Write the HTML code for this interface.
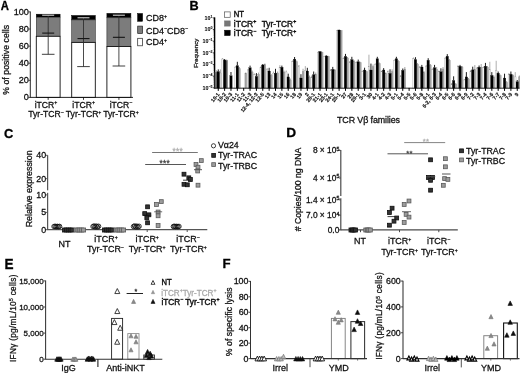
<!DOCTYPE html>
<html lang="en">
<head>
<meta charset="utf-8">
<title>Figure</title>
<style>
html,body{margin:0;padding:0;background:#fff;}
body{width:520px;height:373px;overflow:hidden;}
svg{display:block;font-family:'Liberation Sans', Arial, sans-serif;}
svg text{font-family:"Liberation Sans", Arial, sans-serif;}
</style>
</head>
<body>
<svg width="520" height="373" viewBox="0 0 520 373">
<rect x="0" y="0" width="520" height="373" fill="#ffffff"/>
<defs><filter id="soft" x="0" y="0" width="520" height="373" filterUnits="userSpaceOnUse"><feGaussianBlur stdDeviation="0.45"/></filter></defs>
<g id="fig" filter="url(#soft)">
<text transform="translate(0.77,10.05) scale(0.95,1)" font-size="11.9" font-weight="bold" fill="#000" stroke="#000" stroke-width="0.3">A</text>
<rect x="36.30" y="14.20" width="23.80" height="3.00" fill="#000" stroke="#000" stroke-width="0.5" />
<rect x="36.30" y="17.20" width="23.80" height="19.10" fill="#7c7c7c" stroke="#333" stroke-width="0.6" />
<rect x="36.30" y="36.30" width="23.80" height="61.10" fill="#fff" stroke="#111" stroke-width="0.9" />
<line x1="48.20" y1="15.20" x2="48.20" y2="54.30" stroke="#2a2a2a" stroke-width="0.85" />
<line x1="42.20" y1="15.20" x2="54.20" y2="15.20" stroke="#fff" stroke-width="0.9" />
<line x1="42.20" y1="33.10" x2="54.20" y2="33.10" stroke="#111" stroke-width="1.05" />
<line x1="41.90" y1="54.30" x2="54.50" y2="54.30" stroke="#2a2a2a" stroke-width="0.9" />
<rect x="71.70" y="15.50" width="23.60" height="4.40" fill="#000" stroke="#000" stroke-width="0.5" />
<rect x="71.70" y="19.90" width="23.60" height="22.50" fill="#7c7c7c" stroke="#333" stroke-width="0.6" />
<rect x="71.70" y="42.40" width="23.60" height="55.00" fill="#fff" stroke="#111" stroke-width="0.9" />
<line x1="83.50" y1="17.80" x2="83.50" y2="66.60" stroke="#2a2a2a" stroke-width="0.85" />
<line x1="77.50" y1="17.80" x2="89.50" y2="17.80" stroke="#fff" stroke-width="0.9" />
<line x1="77.50" y1="38.60" x2="89.50" y2="38.60" stroke="#111" stroke-width="1.05" />
<line x1="77.20" y1="66.60" x2="89.80" y2="66.60" stroke="#2a2a2a" stroke-width="0.9" />
<rect x="106.90" y="13.40" width="24.00" height="4.40" fill="#000" stroke="#000" stroke-width="0.5" />
<rect x="106.90" y="17.80" width="24.00" height="28.70" fill="#7c7c7c" stroke="#333" stroke-width="0.6" />
<rect x="106.90" y="46.50" width="24.00" height="50.90" fill="#fff" stroke="#111" stroke-width="0.9" />
<line x1="118.90" y1="15.20" x2="118.90" y2="66.00" stroke="#2a2a2a" stroke-width="0.85" />
<line x1="112.90" y1="15.20" x2="124.90" y2="15.20" stroke="#fff" stroke-width="0.9" />
<line x1="112.90" y1="37.30" x2="124.90" y2="37.30" stroke="#111" stroke-width="1.05" />
<line x1="112.60" y1="66.00" x2="125.20" y2="66.00" stroke="#2a2a2a" stroke-width="0.9" />
<line x1="30.30" y1="11.50" x2="30.30" y2="97.80" stroke="#111" stroke-width="0.9" />
<line x1="30.30" y1="97.40" x2="133.00" y2="97.40" stroke="#111" stroke-width="0.9" />
<line x1="28.40" y1="97.40" x2="30.30" y2="97.40" stroke="#111" stroke-width="0.8" />
<text x="28.90" y="99.70" font-size="9.1" text-anchor="end" font-weight="normal" fill="#111" stroke="#111" stroke-width="0.28" >0</text>
<line x1="28.40" y1="80.30" x2="30.30" y2="80.30" stroke="#111" stroke-width="0.8" />
<text x="28.90" y="82.84" font-size="9.1" text-anchor="end" font-weight="normal" fill="#111" stroke="#111" stroke-width="0.28" >20</text>
<line x1="28.40" y1="63.20" x2="30.30" y2="63.20" stroke="#111" stroke-width="0.8" />
<text x="28.90" y="65.98" font-size="9.1" text-anchor="end" font-weight="normal" fill="#111" stroke="#111" stroke-width="0.28" >40</text>
<line x1="28.40" y1="46.10" x2="30.30" y2="46.10" stroke="#111" stroke-width="0.8" />
<text x="28.90" y="49.12" font-size="9.1" text-anchor="end" font-weight="normal" fill="#111" stroke="#111" stroke-width="0.28" >60</text>
<line x1="28.40" y1="29.00" x2="30.30" y2="29.00" stroke="#111" stroke-width="0.8" />
<text x="28.90" y="32.26" font-size="9.1" text-anchor="end" font-weight="normal" fill="#111" stroke="#111" stroke-width="0.28" >80</text>
<line x1="28.40" y1="11.90" x2="30.30" y2="11.90" stroke="#111" stroke-width="0.8" />
<text x="28.90" y="15.40" font-size="9.1" text-anchor="end" font-weight="normal" fill="#111" stroke="#111" stroke-width="0.28" >100</text>
<line x1="48.20" y1="97.40" x2="48.20" y2="99.90" stroke="#111" stroke-width="0.8" />
<line x1="83.50" y1="97.40" x2="83.50" y2="99.90" stroke="#111" stroke-width="0.8" />
<line x1="118.90" y1="97.40" x2="118.90" y2="99.90" stroke="#111" stroke-width="0.8" />
<text transform="translate(8.9,59.85) rotate(-90)" font-size="8.63" text-anchor="middle" fill="#111" stroke="#111" stroke-width="0.28" textLength="69.8">% of positive cells</text>
<text x="46.00" y="107.60" font-size="8.65" text-anchor="middle" font-weight="normal" fill="#111" stroke="#111" stroke-width="0.28" >iTCR<tspan dy="-3.2" font-size="5.2">+</tspan><tspan dy="3.2" font-size="1">&#8203;</tspan></text>
<text x="46.00" y="117.20" font-size="8.65" text-anchor="middle" font-weight="normal" fill="#111" stroke="#111" stroke-width="0.28" >Tyr-TCR<tspan dy="-3.2" font-size="5.2">−</tspan><tspan dy="3.2" font-size="1">&#8203;</tspan></text>
<text x="83.60" y="107.60" font-size="8.65" text-anchor="middle" font-weight="normal" fill="#111" stroke="#111" stroke-width="0.28" >iTCR<tspan dy="-3.2" font-size="5.2">+</tspan><tspan dy="3.2" font-size="1">&#8203;</tspan></text>
<text x="83.60" y="117.20" font-size="8.65" text-anchor="middle" font-weight="normal" fill="#111" stroke="#111" stroke-width="0.28" >Tyr-TCR<tspan dy="-3.2" font-size="5.2">+</tspan><tspan dy="3.2" font-size="1">&#8203;</tspan></text>
<text x="121.00" y="107.60" font-size="8.65" text-anchor="middle" font-weight="normal" fill="#111" stroke="#111" stroke-width="0.28" >iTCR<tspan dy="-3.2" font-size="5.2">−</tspan><tspan dy="3.2" font-size="1">&#8203;</tspan></text>
<text x="121.00" y="117.20" font-size="8.65" text-anchor="middle" font-weight="normal" fill="#111" stroke="#111" stroke-width="0.28" >Tyr-TCR<tspan dy="-3.2" font-size="5.2">+</tspan><tspan dy="3.2" font-size="1">&#8203;</tspan></text>
<rect x="137.60" y="13.50" width="5.00" height="7.80" fill="#000" stroke="#000" stroke-width="0.5" />
<rect x="137.70" y="26.10" width="4.90" height="7.30" fill="#7c7c7c" stroke="#222" stroke-width="0.7" />
<rect x="137.70" y="38.30" width="4.90" height="7.50" fill="#fff" stroke="#222" stroke-width="0.7" />
<text x="146.00" y="21.40" font-size="9.0" text-anchor="start" font-weight="normal" fill="#111" stroke="#111" stroke-width="0.28" >CD8<tspan dy="-3.2" font-size="5.2">+</tspan><tspan dy="3.2" font-size="1">&#8203;</tspan></text>
<text x="146.00" y="33.50" font-size="9.0" text-anchor="start" font-weight="normal" fill="#111" stroke="#111" stroke-width="0.28" >CD4<tspan dy="-3.2" font-size="5.2">−</tspan><tspan dy="3.2" font-size="1">&#8203;</tspan>CD8<tspan dy="-3.2" font-size="5.2">−</tspan><tspan dy="3.2" font-size="1">&#8203;</tspan></text>
<text x="146.00" y="45.20" font-size="9.0" text-anchor="start" font-weight="normal" fill="#111" stroke="#111" stroke-width="0.28" >CD4<tspan dy="-3.2" font-size="5.2">+</tspan><tspan dy="3.2" font-size="1">&#8203;</tspan></text>
<text transform="translate(189.60,9.95) scale(1.04,1)" font-size="12.2" font-weight="bold" fill="#000" stroke="#000" stroke-width="0.3">B</text>
<line x1="214.60" y1="17.40" x2="214.60" y2="88.70" stroke="#000" stroke-width="1.4" />
<line x1="213.60" y1="26.04" x2="214.60" y2="26.04" stroke="#000" stroke-width="0.45" />
<line x1="213.60" y1="23.99" x2="214.60" y2="23.99" stroke="#000" stroke-width="0.45" />
<line x1="213.60" y1="22.54" x2="214.60" y2="22.54" stroke="#000" stroke-width="0.45" />
<line x1="213.60" y1="21.41" x2="214.60" y2="21.41" stroke="#000" stroke-width="0.45" />
<line x1="213.60" y1="20.48" x2="214.60" y2="20.48" stroke="#000" stroke-width="0.45" />
<line x1="213.60" y1="19.70" x2="214.60" y2="19.70" stroke="#000" stroke-width="0.45" />
<line x1="213.60" y1="19.03" x2="214.60" y2="19.03" stroke="#000" stroke-width="0.45" />
<line x1="213.60" y1="18.43" x2="214.60" y2="18.43" stroke="#000" stroke-width="0.45" />
<line x1="213.60" y1="37.69" x2="214.60" y2="37.69" stroke="#000" stroke-width="0.45" />
<line x1="213.60" y1="35.64" x2="214.60" y2="35.64" stroke="#000" stroke-width="0.45" />
<line x1="213.60" y1="34.19" x2="214.60" y2="34.19" stroke="#000" stroke-width="0.45" />
<line x1="213.60" y1="33.06" x2="214.60" y2="33.06" stroke="#000" stroke-width="0.45" />
<line x1="213.60" y1="32.13" x2="214.60" y2="32.13" stroke="#000" stroke-width="0.45" />
<line x1="213.60" y1="31.35" x2="214.60" y2="31.35" stroke="#000" stroke-width="0.45" />
<line x1="213.60" y1="30.68" x2="214.60" y2="30.68" stroke="#000" stroke-width="0.45" />
<line x1="213.60" y1="30.08" x2="214.60" y2="30.08" stroke="#000" stroke-width="0.45" />
<line x1="213.60" y1="49.34" x2="214.60" y2="49.34" stroke="#000" stroke-width="0.45" />
<line x1="213.60" y1="47.29" x2="214.60" y2="47.29" stroke="#000" stroke-width="0.45" />
<line x1="213.60" y1="45.84" x2="214.60" y2="45.84" stroke="#000" stroke-width="0.45" />
<line x1="213.60" y1="44.71" x2="214.60" y2="44.71" stroke="#000" stroke-width="0.45" />
<line x1="213.60" y1="43.78" x2="214.60" y2="43.78" stroke="#000" stroke-width="0.45" />
<line x1="213.60" y1="43.00" x2="214.60" y2="43.00" stroke="#000" stroke-width="0.45" />
<line x1="213.60" y1="42.33" x2="214.60" y2="42.33" stroke="#000" stroke-width="0.45" />
<line x1="213.60" y1="41.73" x2="214.60" y2="41.73" stroke="#000" stroke-width="0.45" />
<line x1="213.60" y1="60.99" x2="214.60" y2="60.99" stroke="#000" stroke-width="0.45" />
<line x1="213.60" y1="58.94" x2="214.60" y2="58.94" stroke="#000" stroke-width="0.45" />
<line x1="213.60" y1="57.49" x2="214.60" y2="57.49" stroke="#000" stroke-width="0.45" />
<line x1="213.60" y1="56.36" x2="214.60" y2="56.36" stroke="#000" stroke-width="0.45" />
<line x1="213.60" y1="55.43" x2="214.60" y2="55.43" stroke="#000" stroke-width="0.45" />
<line x1="213.60" y1="54.65" x2="214.60" y2="54.65" stroke="#000" stroke-width="0.45" />
<line x1="213.60" y1="53.98" x2="214.60" y2="53.98" stroke="#000" stroke-width="0.45" />
<line x1="213.60" y1="53.38" x2="214.60" y2="53.38" stroke="#000" stroke-width="0.45" />
<line x1="213.60" y1="72.64" x2="214.60" y2="72.64" stroke="#000" stroke-width="0.45" />
<line x1="213.60" y1="70.59" x2="214.60" y2="70.59" stroke="#000" stroke-width="0.45" />
<line x1="213.60" y1="69.14" x2="214.60" y2="69.14" stroke="#000" stroke-width="0.45" />
<line x1="213.60" y1="68.01" x2="214.60" y2="68.01" stroke="#000" stroke-width="0.45" />
<line x1="213.60" y1="67.08" x2="214.60" y2="67.08" stroke="#000" stroke-width="0.45" />
<line x1="213.60" y1="66.30" x2="214.60" y2="66.30" stroke="#000" stroke-width="0.45" />
<line x1="213.60" y1="65.63" x2="214.60" y2="65.63" stroke="#000" stroke-width="0.45" />
<line x1="213.60" y1="65.03" x2="214.60" y2="65.03" stroke="#000" stroke-width="0.45" />
<line x1="213.60" y1="84.29" x2="214.60" y2="84.29" stroke="#000" stroke-width="0.45" />
<line x1="213.60" y1="82.24" x2="214.60" y2="82.24" stroke="#000" stroke-width="0.45" />
<line x1="213.60" y1="80.79" x2="214.60" y2="80.79" stroke="#000" stroke-width="0.45" />
<line x1="213.60" y1="79.66" x2="214.60" y2="79.66" stroke="#000" stroke-width="0.45" />
<line x1="213.60" y1="78.73" x2="214.60" y2="78.73" stroke="#000" stroke-width="0.45" />
<line x1="213.60" y1="77.95" x2="214.60" y2="77.95" stroke="#000" stroke-width="0.45" />
<line x1="213.60" y1="77.28" x2="214.60" y2="77.28" stroke="#000" stroke-width="0.45" />
<line x1="213.60" y1="76.68" x2="214.60" y2="76.68" stroke="#000" stroke-width="0.45" />
<line x1="212.80" y1="17.90" x2="214.60" y2="17.90" stroke="#000" stroke-width="0.7" />
<text x="212.60" y="19.80" font-size="5.4" text-anchor="end" font-weight="bold" fill="#000" stroke="#000" stroke-width="0.05" >10<tspan dy="-2.0" font-size="3.6">1</tspan></text>
<line x1="212.80" y1="29.55" x2="214.60" y2="29.55" stroke="#000" stroke-width="0.7" />
<text x="212.60" y="31.45" font-size="5.4" text-anchor="end" font-weight="bold" fill="#000" stroke="#000" stroke-width="0.05" >10<tspan dy="-2.0" font-size="3.6">0</tspan></text>
<line x1="212.80" y1="41.20" x2="214.60" y2="41.20" stroke="#000" stroke-width="0.7" />
<text x="212.60" y="43.10" font-size="5.4" text-anchor="end" font-weight="bold" fill="#000" stroke="#000" stroke-width="0.05" >10<tspan dy="-2.0" font-size="3.6">−1</tspan></text>
<line x1="212.80" y1="52.85" x2="214.60" y2="52.85" stroke="#000" stroke-width="0.7" />
<text x="212.60" y="54.75" font-size="5.4" text-anchor="end" font-weight="bold" fill="#000" stroke="#000" stroke-width="0.05" >10<tspan dy="-2.0" font-size="3.6">−2</tspan></text>
<line x1="212.80" y1="64.50" x2="214.60" y2="64.50" stroke="#000" stroke-width="0.7" />
<text x="212.60" y="66.40" font-size="5.4" text-anchor="end" font-weight="bold" fill="#000" stroke="#000" stroke-width="0.05" >10<tspan dy="-2.0" font-size="3.6">−3</tspan></text>
<line x1="212.80" y1="76.15" x2="214.60" y2="76.15" stroke="#000" stroke-width="0.7" />
<text x="212.60" y="78.05" font-size="5.4" text-anchor="end" font-weight="bold" fill="#000" stroke="#000" stroke-width="0.05" >10<tspan dy="-2.0" font-size="3.6">−4</tspan></text>
<line x1="212.80" y1="87.80" x2="214.60" y2="87.80" stroke="#000" stroke-width="0.7" />
<text x="212.60" y="89.70" font-size="5.4" text-anchor="end" font-weight="bold" fill="#000" stroke="#000" stroke-width="0.05" >10<tspan dy="-2.0" font-size="3.6">−5</tspan></text>
<text transform="translate(198.1,53.2) rotate(-90)" font-size="6.2" textLength="29.2" text-anchor="middle" fill="#111" stroke="#111" stroke-width="0.28">Frequency</text>
<rect x="224.60" y="11.90" width="5.60" height="5.40" fill="#fff" stroke="#555" stroke-width="0.7" />
<rect x="224.60" y="20.90" width="5.60" height="5.20" fill="#777" stroke="#666" stroke-width="0.5" />
<rect x="224.60" y="30.20" width="5.60" height="5.40" fill="#000" stroke="#000" stroke-width="0.5" />
<text x="233.80" y="17.40" font-size="8.5" text-anchor="start" font-weight="normal" fill="#111" stroke="#111" stroke-width="0.28" style="stroke-width:0.42px" lengthAdjust="spacingAndGlyphs" textLength="10.3">NT</text>
<text x="233.80" y="26.50" font-size="8.5" text-anchor="start" font-weight="normal" fill="#111" stroke="#111" stroke-width="0.28" style="stroke-width:0.42px" lengthAdjust="spacingAndGlyphs" textLength="22.4">iTCR<tspan dy="-3.2" font-size="5.2">+</tspan><tspan dy="3.2" font-size="1">&#8203;</tspan></text>
<text x="261.70" y="26.50" font-size="8.5" text-anchor="start" font-weight="normal" fill="#111" stroke="#111" stroke-width="0.28" style="stroke-width:0.42px" lengthAdjust="spacingAndGlyphs" textLength="34.4">Tyr-TCR<tspan dy="-3.2" font-size="5.2">+</tspan><tspan dy="3.2" font-size="1">&#8203;</tspan></text>
<text x="233.80" y="35.90" font-size="8.5" text-anchor="start" font-weight="normal" fill="#111" stroke="#111" stroke-width="0.28" style="stroke-width:0.42px" lengthAdjust="spacingAndGlyphs" textLength="22.4">iTCR<tspan dy="-3.2" font-size="5.2">−</tspan><tspan dy="3.2" font-size="1">&#8203;</tspan></text>
<text x="261.70" y="35.90" font-size="8.5" text-anchor="start" font-weight="normal" fill="#111" stroke="#111" stroke-width="0.28" style="stroke-width:0.42px" lengthAdjust="spacingAndGlyphs" textLength="34.4">Tyr-TCR<tspan dy="-3.2" font-size="5.2">+</tspan><tspan dy="3.2" font-size="1">&#8203;</tspan></text>
<rect x="214.95" y="72.00" width="2.10" height="16.20" fill="#6a6a6a" stroke="#999" stroke-width="0.32" />
<line x1="216.25" y1="70.00" x2="216.25" y2="72.00" stroke="#777" stroke-width="0.6" />
<rect x="219.45" y="73.00" width="1.80" height="15.20" fill="#cfcfcf" stroke="#888" stroke-width="0.3" />
<line x1="220.35" y1="69.40" x2="220.35" y2="73.00" stroke="#666" stroke-width="0.6" />
<rect x="217.00" y="71.50" width="2.50" height="16.70" fill="#000" stroke="#000" stroke-width="0.2" />
<line x1="218.25" y1="69.40" x2="218.25" y2="71.50" stroke="#000" stroke-width="0.9" />
<rect x="221.81" y="59.00" width="1.60" height="29.20" fill="#f3f3f3" stroke="#999" stroke-width="0.32" />
<line x1="222.61" y1="58.00" x2="222.61" y2="59.00" stroke="#777" stroke-width="0.6" />
<rect x="225.81" y="60.20" width="1.80" height="28.00" fill="#555" stroke="#888" stroke-width="0.3" />
<line x1="226.71" y1="59.50" x2="226.71" y2="60.20" stroke="#666" stroke-width="0.6" />
<rect x="223.36" y="59.90" width="2.50" height="28.30" fill="#000" stroke="#000" stroke-width="0.2" />
<line x1="224.61" y1="59.00" x2="224.61" y2="59.90" stroke="#000" stroke-width="0.9" />
<rect x="229.72" y="75.80" width="2.50" height="12.40" fill="#000" stroke="#000" stroke-width="0.2" />
<line x1="230.97" y1="72.00" x2="230.97" y2="75.80" stroke="#000" stroke-width="0.9" />
<rect x="234.54" y="67.20" width="1.60" height="21.00" fill="#f3f3f3" stroke="#999" stroke-width="0.32" />
<line x1="235.34" y1="66.00" x2="235.34" y2="67.20" stroke="#777" stroke-width="0.6" />
<rect x="238.54" y="68.80" width="1.80" height="19.40" fill="#a2a2a2" stroke="#888" stroke-width="0.3" />
<line x1="239.44" y1="67.00" x2="239.44" y2="68.80" stroke="#666" stroke-width="0.6" />
<rect x="236.09" y="65.60" width="2.50" height="22.60" fill="#000" stroke="#000" stroke-width="0.2" />
<line x1="237.34" y1="61.80" x2="237.34" y2="65.60" stroke="#000" stroke-width="0.9" />
<rect x="244.90" y="73.10" width="1.80" height="15.10" fill="#a2a2a2" stroke="#888" stroke-width="0.3" />
<line x1="245.80" y1="72.50" x2="245.80" y2="73.10" stroke="#666" stroke-width="0.6" />
<rect x="247.26" y="70.00" width="1.60" height="18.20" fill="#f3f3f3" stroke="#999" stroke-width="0.32" />
<line x1="248.06" y1="69.00" x2="248.06" y2="70.00" stroke="#777" stroke-width="0.6" />
<rect x="251.26" y="72.00" width="1.80" height="16.20" fill="#a2a2a2" stroke="#888" stroke-width="0.3" />
<line x1="252.16" y1="70.50" x2="252.16" y2="72.00" stroke="#666" stroke-width="0.6" />
<rect x="248.81" y="67.80" width="2.50" height="20.40" fill="#000" stroke="#000" stroke-width="0.2" />
<line x1="250.06" y1="65.60" x2="250.06" y2="67.80" stroke="#000" stroke-width="0.9" />
<rect x="253.62" y="74.80" width="1.60" height="13.40" fill="#f3f3f3" stroke="#999" stroke-width="0.32" />
<line x1="254.42" y1="73.50" x2="254.42" y2="74.80" stroke="#777" stroke-width="0.6" />
<rect x="257.62" y="74.20" width="1.80" height="14.00" fill="#a2a2a2" stroke="#888" stroke-width="0.3" />
<line x1="258.52" y1="72.60" x2="258.52" y2="74.20" stroke="#666" stroke-width="0.6" />
<rect x="255.17" y="76.40" width="2.50" height="11.80" fill="#000" stroke="#000" stroke-width="0.2" />
<line x1="256.42" y1="73.10" x2="256.42" y2="76.40" stroke="#000" stroke-width="0.9" />
<rect x="259.98" y="67.80" width="1.60" height="20.40" fill="#f3f3f3" stroke="#999" stroke-width="0.32" />
<line x1="260.78" y1="66.50" x2="260.78" y2="67.80" stroke="#777" stroke-width="0.6" />
<rect x="263.98" y="64.50" width="1.80" height="23.70" fill="#a2a2a2" stroke="#888" stroke-width="0.3" />
<line x1="264.88" y1="63.50" x2="264.88" y2="64.50" stroke="#666" stroke-width="0.6" />
<rect x="261.53" y="65.00" width="2.50" height="23.20" fill="#000" stroke="#000" stroke-width="0.2" />
<line x1="262.78" y1="64.00" x2="262.78" y2="65.00" stroke="#000" stroke-width="0.9" />
<rect x="266.35" y="69.50" width="1.60" height="18.70" fill="#f3f3f3" stroke="#999" stroke-width="0.32" />
<line x1="267.15" y1="68.00" x2="267.15" y2="69.50" stroke="#777" stroke-width="0.6" />
<rect x="270.35" y="75.30" width="1.80" height="12.90" fill="#a2a2a2" stroke="#888" stroke-width="0.3" />
<line x1="271.25" y1="74.00" x2="271.25" y2="75.30" stroke="#666" stroke-width="0.6" />
<rect x="267.90" y="71.00" width="2.50" height="17.20" fill="#000" stroke="#000" stroke-width="0.2" />
<line x1="269.15" y1="67.80" x2="269.15" y2="71.00" stroke="#000" stroke-width="0.9" />
<rect x="272.71" y="73.10" width="1.60" height="15.10" fill="#f3f3f3" stroke="#999" stroke-width="0.32" />
<line x1="273.51" y1="71.50" x2="273.51" y2="73.10" stroke="#777" stroke-width="0.6" />
<rect x="276.71" y="73.00" width="1.80" height="15.20" fill="#a2a2a2" stroke="#888" stroke-width="0.3" />
<line x1="277.61" y1="71.50" x2="277.61" y2="73.00" stroke="#666" stroke-width="0.6" />
<rect x="274.26" y="73.10" width="2.50" height="15.10" fill="#000" stroke="#000" stroke-width="0.2" />
<line x1="275.51" y1="68.80" x2="275.51" y2="73.10" stroke="#000" stroke-width="0.9" />
<rect x="279.07" y="67.80" width="1.60" height="20.40" fill="#f3f3f3" stroke="#999" stroke-width="0.32" />
<line x1="279.87" y1="65.10" x2="279.87" y2="67.80" stroke="#777" stroke-width="0.6" />
<rect x="283.07" y="72.00" width="1.80" height="16.20" fill="#a2a2a2" stroke="#888" stroke-width="0.3" />
<line x1="283.97" y1="70.50" x2="283.97" y2="72.00" stroke="#666" stroke-width="0.6" />
<rect x="280.62" y="67.20" width="2.50" height="21.00" fill="#000" stroke="#000" stroke-width="0.2" />
<line x1="281.87" y1="65.60" x2="281.87" y2="67.20" stroke="#000" stroke-width="0.9" />
<rect x="285.43" y="72.00" width="1.60" height="16.20" fill="#f3f3f3" stroke="#999" stroke-width="0.32" />
<line x1="286.23" y1="70.50" x2="286.23" y2="72.00" stroke="#777" stroke-width="0.6" />
<rect x="289.43" y="80.00" width="1.80" height="8.20" fill="#a2a2a2" stroke="#888" stroke-width="0.3" />
<line x1="290.33" y1="78.50" x2="290.33" y2="80.00" stroke="#666" stroke-width="0.6" />
<rect x="286.98" y="76.90" width="2.50" height="11.30" fill="#000" stroke="#000" stroke-width="0.2" />
<line x1="288.23" y1="73.70" x2="288.23" y2="76.90" stroke="#000" stroke-width="0.9" />
<rect x="291.79" y="61.80" width="1.60" height="26.40" fill="#f3f3f3" stroke="#999" stroke-width="0.32" />
<line x1="292.59" y1="60.50" x2="292.59" y2="61.80" stroke="#777" stroke-width="0.6" />
<rect x="295.79" y="61.80" width="1.80" height="26.40" fill="#a2a2a2" stroke="#888" stroke-width="0.3" />
<line x1="296.69" y1="60.50" x2="296.69" y2="61.80" stroke="#666" stroke-width="0.6" />
<rect x="293.34" y="59.10" width="2.50" height="29.10" fill="#000" stroke="#000" stroke-width="0.2" />
<line x1="294.59" y1="57.00" x2="294.59" y2="59.10" stroke="#000" stroke-width="0.9" />
<rect x="298.16" y="66.00" width="1.60" height="22.20" fill="#f3f3f3" stroke="#999" stroke-width="0.32" />
<line x1="298.96" y1="65.00" x2="298.96" y2="66.00" stroke="#777" stroke-width="0.6" />
<rect x="302.16" y="71.50" width="1.80" height="16.70" fill="#a2a2a2" stroke="#888" stroke-width="0.3" />
<line x1="303.06" y1="68.80" x2="303.06" y2="71.50" stroke="#666" stroke-width="0.6" />
<rect x="299.71" y="78.00" width="2.50" height="10.20" fill="#000" stroke="#000" stroke-width="0.2" />
<line x1="300.96" y1="74.20" x2="300.96" y2="78.00" stroke="#000" stroke-width="0.9" />
<rect x="304.52" y="70.50" width="1.60" height="17.70" fill="#f3f3f3" stroke="#999" stroke-width="0.32" />
<line x1="305.32" y1="66.10" x2="305.32" y2="70.50" stroke="#777" stroke-width="0.6" />
<rect x="308.52" y="77.00" width="1.80" height="11.20" fill="#a2a2a2" stroke="#888" stroke-width="0.3" />
<line x1="309.42" y1="75.50" x2="309.42" y2="77.00" stroke="#666" stroke-width="0.6" />
<rect x="306.07" y="71.00" width="2.50" height="17.20" fill="#000" stroke="#000" stroke-width="0.2" />
<line x1="307.32" y1="67.80" x2="307.32" y2="71.00" stroke="#000" stroke-width="0.9" />
<rect x="310.88" y="77.00" width="1.60" height="11.20" fill="#f3f3f3" stroke="#999" stroke-width="0.32" />
<line x1="311.68" y1="75.50" x2="311.68" y2="77.00" stroke="#777" stroke-width="0.6" />
<rect x="314.88" y="74.20" width="1.80" height="14.00" fill="#a2a2a2" stroke="#888" stroke-width="0.3" />
<line x1="315.78" y1="72.50" x2="315.78" y2="74.20" stroke="#666" stroke-width="0.6" />
<rect x="312.43" y="74.80" width="2.50" height="13.40" fill="#000" stroke="#000" stroke-width="0.2" />
<line x1="313.68" y1="71.50" x2="313.68" y2="74.80" stroke="#000" stroke-width="0.9" />
<rect x="317.24" y="52.30" width="1.60" height="35.90" fill="#f3f3f3" stroke="#999" stroke-width="0.32" />
<line x1="318.04" y1="51.80" x2="318.04" y2="52.30" stroke="#777" stroke-width="0.6" />
<rect x="321.24" y="52.30" width="1.80" height="35.90" fill="#a2a2a2" stroke="#888" stroke-width="0.3" />
<line x1="322.14" y1="51.80" x2="322.14" y2="52.30" stroke="#666" stroke-width="0.6" />
<rect x="318.79" y="51.50" width="2.50" height="36.70" fill="#000" stroke="#000" stroke-width="0.2" />
<line x1="320.04" y1="51.00" x2="320.04" y2="51.50" stroke="#000" stroke-width="0.9" />
<rect x="323.60" y="56.40" width="1.60" height="31.80" fill="#f3f3f3" stroke="#999" stroke-width="0.32" />
<line x1="324.40" y1="55.90" x2="324.40" y2="56.40" stroke="#777" stroke-width="0.6" />
<rect x="327.60" y="56.40" width="1.80" height="31.80" fill="#a2a2a2" stroke="#888" stroke-width="0.3" />
<line x1="328.50" y1="55.90" x2="328.50" y2="56.40" stroke="#666" stroke-width="0.6" />
<rect x="325.15" y="55.90" width="2.50" height="32.30" fill="#000" stroke="#000" stroke-width="0.2" />
<line x1="326.40" y1="55.40" x2="326.40" y2="55.90" stroke="#000" stroke-width="0.9" />
<rect x="329.97" y="70.00" width="1.60" height="18.20" fill="#f3f3f3" stroke="#999" stroke-width="0.32" />
<line x1="330.77" y1="69.00" x2="330.77" y2="70.00" stroke="#777" stroke-width="0.6" />
<rect x="333.97" y="70.00" width="1.80" height="18.20" fill="#a2a2a2" stroke="#888" stroke-width="0.3" />
<line x1="334.87" y1="69.00" x2="334.87" y2="70.00" stroke="#666" stroke-width="0.6" />
<rect x="331.52" y="69.30" width="2.50" height="18.90" fill="#000" stroke="#000" stroke-width="0.2" />
<line x1="332.77" y1="66.90" x2="332.77" y2="69.30" stroke="#000" stroke-width="0.9" />
<rect x="336.33" y="30.50" width="1.60" height="57.70" fill="#f3f3f3" stroke="#999" stroke-width="0.32" />
<line x1="337.13" y1="30.20" x2="337.13" y2="30.50" stroke="#777" stroke-width="0.6" />
<rect x="340.33" y="30.50" width="1.80" height="57.70" fill="#a2a2a2" stroke="#888" stroke-width="0.3" />
<line x1="341.23" y1="30.20" x2="341.23" y2="30.50" stroke="#666" stroke-width="0.6" />
<rect x="337.88" y="30.00" width="2.50" height="58.20" fill="#000" stroke="#000" stroke-width="0.2" />
<line x1="339.13" y1="29.70" x2="339.13" y2="30.00" stroke="#000" stroke-width="0.9" />
<rect x="342.69" y="58.80" width="1.60" height="29.40" fill="#f3f3f3" stroke="#999" stroke-width="0.32" />
<line x1="343.49" y1="57.50" x2="343.49" y2="58.80" stroke="#777" stroke-width="0.6" />
<rect x="346.69" y="58.00" width="1.80" height="30.20" fill="#a2a2a2" stroke="#888" stroke-width="0.3" />
<line x1="347.59" y1="57.00" x2="347.59" y2="58.00" stroke="#666" stroke-width="0.6" />
<rect x="344.24" y="56.30" width="2.50" height="31.90" fill="#000" stroke="#000" stroke-width="0.2" />
<line x1="345.49" y1="53.90" x2="345.49" y2="56.30" stroke="#000" stroke-width="0.9" />
<rect x="349.05" y="62.00" width="1.60" height="26.20" fill="#f3f3f3" stroke="#999" stroke-width="0.32" />
<line x1="349.85" y1="61.00" x2="349.85" y2="62.00" stroke="#777" stroke-width="0.6" />
<rect x="353.05" y="61.20" width="1.80" height="27.00" fill="#a2a2a2" stroke="#888" stroke-width="0.3" />
<line x1="353.95" y1="60.00" x2="353.95" y2="61.20" stroke="#666" stroke-width="0.6" />
<rect x="350.60" y="59.60" width="2.50" height="28.60" fill="#000" stroke="#000" stroke-width="0.2" />
<line x1="351.85" y1="56.80" x2="351.85" y2="59.60" stroke="#000" stroke-width="0.9" />
<rect x="355.41" y="62.80" width="1.60" height="25.40" fill="#f3f3f3" stroke="#999" stroke-width="0.32" />
<line x1="356.21" y1="61.80" x2="356.21" y2="62.80" stroke="#777" stroke-width="0.6" />
<rect x="359.41" y="62.80" width="1.80" height="25.40" fill="#a2a2a2" stroke="#888" stroke-width="0.3" />
<line x1="360.31" y1="61.80" x2="360.31" y2="62.80" stroke="#666" stroke-width="0.6" />
<rect x="356.96" y="61.70" width="2.50" height="26.50" fill="#000" stroke="#000" stroke-width="0.2" />
<line x1="358.21" y1="59.60" x2="358.21" y2="61.70" stroke="#000" stroke-width="0.9" />
<rect x="361.78" y="71.70" width="1.60" height="16.50" fill="#f3f3f3" stroke="#999" stroke-width="0.32" />
<line x1="362.58" y1="70.70" x2="362.58" y2="71.70" stroke="#777" stroke-width="0.6" />
<rect x="365.78" y="71.70" width="1.80" height="16.50" fill="#a2a2a2" stroke="#888" stroke-width="0.3" />
<line x1="366.68" y1="70.70" x2="366.68" y2="71.70" stroke="#666" stroke-width="0.6" />
<rect x="363.33" y="70.00" width="2.50" height="18.20" fill="#000" stroke="#000" stroke-width="0.2" />
<line x1="364.58" y1="67.70" x2="364.58" y2="70.00" stroke="#000" stroke-width="0.9" />
<rect x="368.14" y="66.80" width="1.60" height="21.40" fill="#f3f3f3" stroke="#999" stroke-width="0.32" />
<line x1="368.94" y1="54.70" x2="368.94" y2="66.80" stroke="#777" stroke-width="0.6" />
<rect x="372.14" y="66.80" width="1.80" height="21.40" fill="#a2a2a2" stroke="#888" stroke-width="0.3" />
<line x1="373.04" y1="64.50" x2="373.04" y2="66.80" stroke="#666" stroke-width="0.6" />
<rect x="369.69" y="70.00" width="2.50" height="18.20" fill="#000" stroke="#000" stroke-width="0.2" />
<line x1="370.94" y1="63.60" x2="370.94" y2="70.00" stroke="#000" stroke-width="0.9" />
<rect x="374.50" y="64.40" width="1.60" height="23.80" fill="#f3f3f3" stroke="#999" stroke-width="0.32" />
<line x1="375.30" y1="63.40" x2="375.30" y2="64.40" stroke="#777" stroke-width="0.6" />
<rect x="378.50" y="63.60" width="1.80" height="24.60" fill="#a2a2a2" stroke="#888" stroke-width="0.3" />
<line x1="379.40" y1="62.50" x2="379.40" y2="63.60" stroke="#666" stroke-width="0.6" />
<rect x="376.05" y="58.80" width="2.50" height="29.40" fill="#000" stroke="#000" stroke-width="0.2" />
<line x1="377.30" y1="56.80" x2="377.30" y2="58.80" stroke="#000" stroke-width="0.9" />
<rect x="380.86" y="71.70" width="1.60" height="16.50" fill="#f3f3f3" stroke="#999" stroke-width="0.32" />
<line x1="381.66" y1="70.70" x2="381.66" y2="71.70" stroke="#777" stroke-width="0.6" />
<rect x="384.86" y="73.30" width="1.80" height="14.90" fill="#a2a2a2" stroke="#888" stroke-width="0.3" />
<line x1="385.76" y1="72.30" x2="385.76" y2="73.30" stroke="#666" stroke-width="0.6" />
<rect x="382.41" y="70.00" width="2.50" height="18.20" fill="#000" stroke="#000" stroke-width="0.2" />
<line x1="383.66" y1="68.10" x2="383.66" y2="70.00" stroke="#000" stroke-width="0.9" />
<rect x="387.22" y="71.70" width="1.60" height="16.50" fill="#f3f3f3" stroke="#999" stroke-width="0.32" />
<line x1="388.02" y1="70.50" x2="388.02" y2="71.70" stroke="#777" stroke-width="0.6" />
<rect x="391.22" y="71.70" width="1.80" height="16.50" fill="#a2a2a2" stroke="#888" stroke-width="0.3" />
<line x1="392.12" y1="69.30" x2="392.12" y2="71.70" stroke="#666" stroke-width="0.6" />
<rect x="388.77" y="73.30" width="2.50" height="14.90" fill="#000" stroke="#000" stroke-width="0.2" />
<line x1="390.02" y1="69.30" x2="390.02" y2="73.30" stroke="#000" stroke-width="0.9" />
<rect x="393.59" y="60.40" width="1.60" height="27.80" fill="#f3f3f3" stroke="#999" stroke-width="0.32" />
<line x1="394.39" y1="59.40" x2="394.39" y2="60.40" stroke="#777" stroke-width="0.6" />
<rect x="397.59" y="61.20" width="1.80" height="27.00" fill="#a2a2a2" stroke="#888" stroke-width="0.3" />
<line x1="398.49" y1="60.20" x2="398.49" y2="61.20" stroke="#666" stroke-width="0.6" />
<rect x="395.14" y="58.80" width="2.50" height="29.40" fill="#000" stroke="#000" stroke-width="0.2" />
<line x1="396.39" y1="56.80" x2="396.39" y2="58.80" stroke="#000" stroke-width="0.9" />
<rect x="399.95" y="76.00" width="1.60" height="12.20" fill="#f3f3f3" stroke="#999" stroke-width="0.32" />
<line x1="400.75" y1="75.00" x2="400.75" y2="76.00" stroke="#777" stroke-width="0.6" />
<rect x="403.95" y="69.00" width="1.80" height="19.20" fill="#a2a2a2" stroke="#888" stroke-width="0.3" />
<line x1="404.85" y1="67.00" x2="404.85" y2="69.00" stroke="#666" stroke-width="0.6" />
<rect x="401.50" y="70.30" width="2.50" height="17.90" fill="#000" stroke="#000" stroke-width="0.2" />
<line x1="402.75" y1="68.50" x2="402.75" y2="70.30" stroke="#000" stroke-width="0.9" />
<rect x="412.67" y="58.80" width="1.60" height="29.40" fill="#f3f3f3" stroke="#999" stroke-width="0.32" />
<line x1="413.47" y1="57.50" x2="413.47" y2="58.80" stroke="#777" stroke-width="0.6" />
<rect x="416.67" y="64.20" width="1.80" height="24.00" fill="#a2a2a2" stroke="#888" stroke-width="0.3" />
<line x1="417.57" y1="63.00" x2="417.57" y2="64.20" stroke="#666" stroke-width="0.6" />
<rect x="414.22" y="59.50" width="2.50" height="28.70" fill="#000" stroke="#000" stroke-width="0.2" />
<line x1="415.47" y1="57.20" x2="415.47" y2="59.50" stroke="#000" stroke-width="0.9" />
<rect x="419.03" y="67.00" width="1.60" height="21.20" fill="#f3f3f3" stroke="#999" stroke-width="0.32" />
<line x1="419.83" y1="66.00" x2="419.83" y2="67.00" stroke="#777" stroke-width="0.6" />
<rect x="423.03" y="72.30" width="1.80" height="15.90" fill="#a2a2a2" stroke="#888" stroke-width="0.3" />
<line x1="423.93" y1="71.00" x2="423.93" y2="72.30" stroke="#666" stroke-width="0.6" />
<rect x="420.58" y="67.00" width="2.50" height="21.20" fill="#000" stroke="#000" stroke-width="0.2" />
<line x1="421.83" y1="64.90" x2="421.83" y2="67.00" stroke="#000" stroke-width="0.9" />
<rect x="425.40" y="66.20" width="1.60" height="22.00" fill="#f3f3f3" stroke="#999" stroke-width="0.32" />
<line x1="426.20" y1="65.00" x2="426.20" y2="66.20" stroke="#777" stroke-width="0.6" />
<rect x="429.40" y="65.00" width="1.80" height="23.20" fill="#a2a2a2" stroke="#888" stroke-width="0.3" />
<line x1="430.30" y1="64.00" x2="430.30" y2="65.00" stroke="#666" stroke-width="0.6" />
<rect x="426.95" y="60.20" width="2.50" height="28.00" fill="#000" stroke="#000" stroke-width="0.2" />
<line x1="428.20" y1="58.20" x2="428.20" y2="60.20" stroke="#000" stroke-width="0.9" />
<rect x="431.76" y="69.60" width="1.60" height="18.60" fill="#f3f3f3" stroke="#999" stroke-width="0.32" />
<line x1="432.56" y1="68.50" x2="432.56" y2="69.60" stroke="#777" stroke-width="0.6" />
<rect x="435.76" y="69.00" width="1.80" height="19.20" fill="#a2a2a2" stroke="#888" stroke-width="0.3" />
<line x1="436.66" y1="67.00" x2="436.66" y2="69.00" stroke="#666" stroke-width="0.6" />
<rect x="433.31" y="67.60" width="2.50" height="20.60" fill="#000" stroke="#000" stroke-width="0.2" />
<line x1="434.56" y1="64.90" x2="434.56" y2="67.60" stroke="#000" stroke-width="0.9" />
<rect x="438.12" y="71.60" width="1.60" height="16.60" fill="#f3f3f3" stroke="#999" stroke-width="0.32" />
<line x1="438.92" y1="70.50" x2="438.92" y2="71.60" stroke="#777" stroke-width="0.6" />
<rect x="442.12" y="69.00" width="1.80" height="19.20" fill="#a2a2a2" stroke="#888" stroke-width="0.3" />
<line x1="443.02" y1="67.00" x2="443.02" y2="69.00" stroke="#666" stroke-width="0.6" />
<rect x="439.67" y="71.60" width="2.50" height="16.60" fill="#000" stroke="#000" stroke-width="0.2" />
<line x1="440.92" y1="68.30" x2="440.92" y2="71.60" stroke="#000" stroke-width="0.9" />
<rect x="444.48" y="58.20" width="1.60" height="30.00" fill="#f3f3f3" stroke="#999" stroke-width="0.32" />
<line x1="445.28" y1="57.00" x2="445.28" y2="58.20" stroke="#777" stroke-width="0.6" />
<rect x="448.48" y="60.20" width="1.80" height="28.00" fill="#a2a2a2" stroke="#888" stroke-width="0.3" />
<line x1="449.38" y1="59.00" x2="449.38" y2="60.20" stroke="#666" stroke-width="0.6" />
<rect x="446.03" y="56.20" width="2.50" height="32.00" fill="#000" stroke="#000" stroke-width="0.2" />
<line x1="447.28" y1="54.10" x2="447.28" y2="56.20" stroke="#000" stroke-width="0.9" />
<rect x="450.84" y="84.00" width="1.60" height="4.20" fill="#f3f3f3" stroke="#999" stroke-width="0.32" />
<line x1="451.64" y1="83.00" x2="451.64" y2="84.00" stroke="#777" stroke-width="0.6" />
<rect x="454.84" y="84.00" width="1.80" height="4.20" fill="#a2a2a2" stroke="#888" stroke-width="0.3" />
<line x1="455.74" y1="83.00" x2="455.74" y2="84.00" stroke="#666" stroke-width="0.6" />
<rect x="452.39" y="80.40" width="2.50" height="7.80" fill="#000" stroke="#000" stroke-width="0.2" />
<line x1="453.64" y1="76.30" x2="453.64" y2="80.40" stroke="#000" stroke-width="0.9" />
<rect x="457.21" y="66.20" width="1.60" height="22.00" fill="#f3f3f3" stroke="#999" stroke-width="0.32" />
<line x1="458.01" y1="65.20" x2="458.01" y2="66.20" stroke="#777" stroke-width="0.6" />
<rect x="461.21" y="67.00" width="1.80" height="21.20" fill="#a2a2a2" stroke="#888" stroke-width="0.3" />
<line x1="462.11" y1="66.00" x2="462.11" y2="67.00" stroke="#666" stroke-width="0.6" />
<rect x="458.76" y="66.20" width="2.50" height="22.00" fill="#000" stroke="#000" stroke-width="0.2" />
<line x1="460.01" y1="64.90" x2="460.01" y2="66.20" stroke="#000" stroke-width="0.9" />
<rect x="463.57" y="80.00" width="1.60" height="8.20" fill="#f3f3f3" stroke="#999" stroke-width="0.32" />
<line x1="464.37" y1="79.00" x2="464.37" y2="80.00" stroke="#777" stroke-width="0.6" />
<rect x="467.57" y="79.00" width="1.80" height="9.20" fill="#a2a2a2" stroke="#888" stroke-width="0.3" />
<line x1="468.47" y1="78.00" x2="468.47" y2="79.00" stroke="#666" stroke-width="0.6" />
<rect x="465.12" y="76.90" width="2.50" height="11.30" fill="#000" stroke="#000" stroke-width="0.2" />
<line x1="466.37" y1="72.10" x2="466.37" y2="76.90" stroke="#000" stroke-width="0.9" />
<rect x="469.93" y="71.50" width="1.60" height="16.70" fill="#f3f3f3" stroke="#999" stroke-width="0.32" />
<line x1="470.73" y1="70.00" x2="470.73" y2="71.50" stroke="#777" stroke-width="0.6" />
<rect x="473.93" y="69.40" width="1.80" height="18.80" fill="#a2a2a2" stroke="#888" stroke-width="0.3" />
<line x1="474.83" y1="65.10" x2="474.83" y2="69.40" stroke="#666" stroke-width="0.6" />
<rect x="471.48" y="69.90" width="2.50" height="18.30" fill="#000" stroke="#000" stroke-width="0.2" />
<line x1="472.73" y1="66.70" x2="472.73" y2="69.90" stroke="#000" stroke-width="0.9" />
<rect x="476.29" y="68.30" width="1.60" height="19.90" fill="#f3f3f3" stroke="#999" stroke-width="0.32" />
<line x1="477.09" y1="67.00" x2="477.09" y2="68.30" stroke="#777" stroke-width="0.6" />
<rect x="480.29" y="67.20" width="1.80" height="21.00" fill="#a2a2a2" stroke="#888" stroke-width="0.3" />
<line x1="481.19" y1="64.00" x2="481.19" y2="67.20" stroke="#666" stroke-width="0.6" />
<rect x="477.84" y="67.20" width="2.50" height="21.00" fill="#000" stroke="#000" stroke-width="0.2" />
<line x1="479.09" y1="65.50" x2="479.09" y2="67.20" stroke="#000" stroke-width="0.9" />
<rect x="482.65" y="67.80" width="1.60" height="20.40" fill="#f3f3f3" stroke="#999" stroke-width="0.32" />
<line x1="483.45" y1="66.50" x2="483.45" y2="67.80" stroke="#777" stroke-width="0.6" />
<rect x="486.65" y="67.20" width="1.80" height="21.00" fill="#a2a2a2" stroke="#888" stroke-width="0.3" />
<line x1="487.55" y1="66.00" x2="487.55" y2="67.20" stroke="#666" stroke-width="0.6" />
<rect x="484.20" y="66.10" width="2.50" height="22.10" fill="#000" stroke="#000" stroke-width="0.2" />
<line x1="485.45" y1="62.90" x2="485.45" y2="66.10" stroke="#000" stroke-width="0.9" />
<rect x="489.02" y="69.40" width="1.60" height="18.80" fill="#f3f3f3" stroke="#999" stroke-width="0.32" />
<line x1="489.82" y1="61.80" x2="489.82" y2="69.40" stroke="#777" stroke-width="0.6" />
<rect x="493.02" y="76.90" width="1.80" height="11.30" fill="#a2a2a2" stroke="#888" stroke-width="0.3" />
<line x1="493.92" y1="75.50" x2="493.92" y2="76.90" stroke="#666" stroke-width="0.6" />
<rect x="490.57" y="75.30" width="2.50" height="12.90" fill="#000" stroke="#000" stroke-width="0.2" />
<line x1="491.82" y1="72.10" x2="491.82" y2="75.30" stroke="#000" stroke-width="0.9" />
<rect x="495.38" y="70.50" width="1.60" height="17.70" fill="#f3f3f3" stroke="#999" stroke-width="0.32" />
<line x1="496.18" y1="60.80" x2="496.18" y2="70.50" stroke="#777" stroke-width="0.6" />
<rect x="499.38" y="75.80" width="1.80" height="12.40" fill="#a2a2a2" stroke="#888" stroke-width="0.3" />
<line x1="500.28" y1="74.50" x2="500.28" y2="75.80" stroke="#666" stroke-width="0.6" />
<rect x="496.93" y="73.10" width="2.50" height="15.10" fill="#000" stroke="#000" stroke-width="0.2" />
<line x1="498.18" y1="71.50" x2="498.18" y2="73.10" stroke="#000" stroke-width="0.9" />
<rect x="505.74" y="82.30" width="1.80" height="5.90" fill="#a2a2a2" stroke="#888" stroke-width="0.3" />
<line x1="506.64" y1="81.00" x2="506.64" y2="82.30" stroke="#666" stroke-width="0.6" />
<rect x="503.29" y="78.00" width="2.50" height="10.20" fill="#000" stroke="#000" stroke-width="0.2" />
<line x1="504.54" y1="73.70" x2="504.54" y2="78.00" stroke="#000" stroke-width="0.9" />
<rect x="508.10" y="74.20" width="1.60" height="14.00" fill="#f3f3f3" stroke="#999" stroke-width="0.32" />
<line x1="508.90" y1="73.00" x2="508.90" y2="74.20" stroke="#777" stroke-width="0.6" />
<rect x="512.10" y="75.80" width="1.80" height="12.40" fill="#a2a2a2" stroke="#888" stroke-width="0.3" />
<line x1="513.00" y1="74.50" x2="513.00" y2="75.80" stroke="#666" stroke-width="0.6" />
<rect x="509.65" y="74.20" width="2.50" height="14.00" fill="#000" stroke="#000" stroke-width="0.2" />
<line x1="510.90" y1="71.50" x2="510.90" y2="74.20" stroke="#000" stroke-width="0.9" />
<rect x="514.46" y="76.90" width="1.60" height="11.30" fill="#f3f3f3" stroke="#999" stroke-width="0.32" />
<line x1="515.26" y1="72.10" x2="515.26" y2="76.90" stroke="#777" stroke-width="0.6" />
<rect x="518.46" y="76.90" width="1.80" height="11.30" fill="#a2a2a2" stroke="#888" stroke-width="0.3" />
<line x1="519.36" y1="75.50" x2="519.36" y2="76.90" stroke="#666" stroke-width="0.6" />
<rect x="516.01" y="81.80" width="2.50" height="6.40" fill="#000" stroke="#000" stroke-width="0.2" />
<line x1="517.26" y1="80.00" x2="517.26" y2="81.80" stroke="#000" stroke-width="0.9" />
<line x1="214.60" y1="88.20" x2="519.50" y2="88.20" stroke="#111" stroke-width="0.9" />
<line x1="218.25" y1="87.90" x2="218.25" y2="90.90" stroke="#000" stroke-width="1.0" />
<text transform="translate(219.95,94.50) rotate(-50)" font-size="5.2" font-weight="bold" text-anchor="end" fill="#111" stroke="#111" stroke-width="0.15">10-1</text>
<line x1="224.61" y1="87.90" x2="224.61" y2="90.90" stroke="#000" stroke-width="1.0" />
<text transform="translate(226.31,94.50) rotate(-50)" font-size="5.2" font-weight="bold" text-anchor="end" fill="#111" stroke="#111" stroke-width="0.15">10-2</text>
<line x1="230.97" y1="87.90" x2="230.97" y2="90.90" stroke="#000" stroke-width="1.0" />
<text transform="translate(232.67,94.50) rotate(-50)" font-size="5.2" font-weight="bold" text-anchor="end" fill="#111" stroke="#111" stroke-width="0.15">10-3</text>
<line x1="237.34" y1="87.90" x2="237.34" y2="90.90" stroke="#000" stroke-width="1.0" />
<text transform="translate(239.04,94.50) rotate(-50)" font-size="5.2" font-weight="bold" text-anchor="end" fill="#111" stroke="#111" stroke-width="0.15">11-1</text>
<line x1="243.70" y1="87.90" x2="243.70" y2="90.90" stroke="#000" stroke-width="1.0" />
<text transform="translate(245.40,94.50) rotate(-50)" font-size="5.2" font-weight="bold" text-anchor="end" fill="#111" stroke="#111" stroke-width="0.15">11-2</text>
<line x1="250.06" y1="87.90" x2="250.06" y2="90.90" stroke="#000" stroke-width="1.0" />
<text transform="translate(251.76,94.50) rotate(-50)" font-size="5.2" font-weight="bold" text-anchor="end" fill="#111" stroke="#111" stroke-width="0.15">11-3</text>
<line x1="256.42" y1="87.90" x2="256.42" y2="90.90" stroke="#000" stroke-width="1.0" />
<text transform="translate(258.12,94.50) rotate(-50)" font-size="5.2" font-weight="bold" text-anchor="end" fill="#111" stroke="#111" stroke-width="0.15">12-4, 12-3</text>
<line x1="262.78" y1="87.90" x2="262.78" y2="90.90" stroke="#000" stroke-width="1.0" />
<text transform="translate(264.48,94.50) rotate(-50)" font-size="5.2" font-weight="bold" text-anchor="end" fill="#111" stroke="#111" stroke-width="0.15">12-5</text>
<line x1="269.15" y1="87.90" x2="269.15" y2="90.90" stroke="#000" stroke-width="1.0" />
<text transform="translate(270.85,94.50) rotate(-50)" font-size="5.2" font-weight="bold" text-anchor="end" fill="#111" stroke="#111" stroke-width="0.15">13</text>
<line x1="275.51" y1="87.90" x2="275.51" y2="90.90" stroke="#000" stroke-width="1.0" />
<text transform="translate(277.21,94.50) rotate(-50)" font-size="5.2" font-weight="bold" text-anchor="end" fill="#111" stroke="#111" stroke-width="0.15">14</text>
<line x1="281.87" y1="87.90" x2="281.87" y2="90.90" stroke="#000" stroke-width="1.0" />
<text transform="translate(283.57,94.50) rotate(-50)" font-size="5.2" font-weight="bold" text-anchor="end" fill="#111" stroke="#111" stroke-width="0.15">15</text>
<line x1="288.23" y1="87.90" x2="288.23" y2="90.90" stroke="#000" stroke-width="1.0" />
<text transform="translate(289.93,94.50) rotate(-50)" font-size="5.2" font-weight="bold" text-anchor="end" fill="#111" stroke="#111" stroke-width="0.15">16</text>
<line x1="294.59" y1="87.90" x2="294.59" y2="90.90" stroke="#000" stroke-width="1.0" />
<text transform="translate(296.29,94.50) rotate(-50)" font-size="5.2" font-weight="bold" text-anchor="end" fill="#111" stroke="#111" stroke-width="0.15">18</text>
<line x1="300.96" y1="87.90" x2="300.96" y2="90.90" stroke="#000" stroke-width="1.0" />
<text transform="translate(302.66,94.50) rotate(-50)" font-size="5.2" font-weight="bold" text-anchor="end" fill="#111" stroke="#111" stroke-width="0.15">19</text>
<line x1="307.32" y1="87.90" x2="307.32" y2="90.90" stroke="#000" stroke-width="1.0" />
<text transform="translate(309.02,94.50) rotate(-50)" font-size="5.2" font-weight="bold" text-anchor="end" fill="#111" stroke="#111" stroke-width="0.15">2</text>
<line x1="313.68" y1="87.90" x2="313.68" y2="90.90" stroke="#000" stroke-width="1.0" />
<text transform="translate(315.38,94.50) rotate(-50)" font-size="5.2" font-weight="bold" text-anchor="end" fill="#111" stroke="#111" stroke-width="0.15">20-1</text>
<line x1="320.04" y1="87.90" x2="320.04" y2="90.90" stroke="#000" stroke-width="1.0" />
<text transform="translate(321.74,94.50) rotate(-50)" font-size="5.2" font-weight="bold" text-anchor="end" fill="#111" stroke="#111" stroke-width="0.15">21-1</text>
<line x1="326.40" y1="87.90" x2="326.40" y2="90.90" stroke="#000" stroke-width="1.0" />
<text transform="translate(328.10,94.50) rotate(-50)" font-size="5.2" font-weight="bold" text-anchor="end" fill="#111" stroke="#111" stroke-width="0.15">23-1</text>
<line x1="332.77" y1="87.90" x2="332.77" y2="90.90" stroke="#000" stroke-width="1.0" />
<text transform="translate(334.47,94.50) rotate(-50)" font-size="5.2" font-weight="bold" text-anchor="end" fill="#111" stroke="#111" stroke-width="0.15">24-1</text>
<line x1="339.13" y1="87.90" x2="339.13" y2="90.90" stroke="#000" stroke-width="1.0" />
<text transform="translate(340.83,94.50) rotate(-50)" font-size="5.2" font-weight="bold" text-anchor="end" fill="#111" stroke="#111" stroke-width="0.15">25-1</text>
<line x1="345.49" y1="87.90" x2="345.49" y2="90.90" stroke="#000" stroke-width="1.0" />
<text transform="translate(347.19,94.50) rotate(-50)" font-size="5.2" font-weight="bold" text-anchor="end" fill="#111" stroke="#111" stroke-width="0.15">27</text>
<line x1="351.85" y1="87.90" x2="351.85" y2="90.90" stroke="#000" stroke-width="1.0" />
<text transform="translate(353.55,94.50) rotate(-50)" font-size="5.2" font-weight="bold" text-anchor="end" fill="#111" stroke="#111" stroke-width="0.15">28</text>
<line x1="358.21" y1="87.90" x2="358.21" y2="90.90" stroke="#000" stroke-width="1.0" />
<text transform="translate(359.91,94.50) rotate(-50)" font-size="5.2" font-weight="bold" text-anchor="end" fill="#111" stroke="#111" stroke-width="0.15">29-1</text>
<line x1="364.58" y1="87.90" x2="364.58" y2="90.90" stroke="#000" stroke-width="1.0" />
<text transform="translate(366.28,94.50) rotate(-50)" font-size="5.2" font-weight="bold" text-anchor="end" fill="#111" stroke="#111" stroke-width="0.15">3-1</text>
<line x1="370.94" y1="87.90" x2="370.94" y2="90.90" stroke="#000" stroke-width="1.0" />
<text transform="translate(372.64,94.50) rotate(-50)" font-size="5.2" font-weight="bold" text-anchor="end" fill="#111" stroke="#111" stroke-width="0.15">30</text>
<line x1="377.30" y1="87.90" x2="377.30" y2="90.90" stroke="#000" stroke-width="1.0" />
<text transform="translate(379.00,94.50) rotate(-50)" font-size="5.2" font-weight="bold" text-anchor="end" fill="#111" stroke="#111" stroke-width="0.15">4-1</text>
<line x1="383.66" y1="87.90" x2="383.66" y2="90.90" stroke="#000" stroke-width="1.0" />
<text transform="translate(385.36,94.50) rotate(-50)" font-size="5.2" font-weight="bold" text-anchor="end" fill="#111" stroke="#111" stroke-width="0.15">4-2</text>
<line x1="390.02" y1="87.90" x2="390.02" y2="90.90" stroke="#000" stroke-width="1.0" />
<text transform="translate(391.72,94.50) rotate(-50)" font-size="5.2" font-weight="bold" text-anchor="end" fill="#111" stroke="#111" stroke-width="0.15">4-3</text>
<line x1="396.39" y1="87.90" x2="396.39" y2="90.90" stroke="#000" stroke-width="1.0" />
<text transform="translate(398.09,94.50) rotate(-50)" font-size="5.2" font-weight="bold" text-anchor="end" fill="#111" stroke="#111" stroke-width="0.15">5-1</text>
<line x1="402.75" y1="87.90" x2="402.75" y2="90.90" stroke="#000" stroke-width="1.0" />
<text transform="translate(404.45,94.50) rotate(-50)" font-size="5.2" font-weight="bold" text-anchor="end" fill="#111" stroke="#111" stroke-width="0.15">5-4</text>
<line x1="409.11" y1="87.90" x2="409.11" y2="90.90" stroke="#000" stroke-width="1.0" />
<text transform="translate(410.81,94.50) rotate(-50)" font-size="5.2" font-weight="bold" text-anchor="end" fill="#111" stroke="#111" stroke-width="0.15">5-5</text>
<line x1="415.47" y1="87.90" x2="415.47" y2="90.90" stroke="#000" stroke-width="1.0" />
<text transform="translate(417.17,94.50) rotate(-50)" font-size="5.2" font-weight="bold" text-anchor="end" fill="#111" stroke="#111" stroke-width="0.15">5-6</text>
<line x1="421.83" y1="87.90" x2="421.83" y2="90.90" stroke="#000" stroke-width="1.0" />
<text transform="translate(423.53,94.50) rotate(-50)" font-size="5.2" font-weight="bold" text-anchor="end" fill="#111" stroke="#111" stroke-width="0.15">5-8</text>
<line x1="428.20" y1="87.90" x2="428.20" y2="90.90" stroke="#000" stroke-width="1.0" />
<text transform="translate(429.90,94.50) rotate(-50)" font-size="5.2" font-weight="bold" text-anchor="end" fill="#111" stroke="#111" stroke-width="0.15">6-1</text>
<line x1="434.56" y1="87.90" x2="434.56" y2="90.90" stroke="#000" stroke-width="1.0" />
<text transform="translate(436.26,94.50) rotate(-50)" font-size="5.2" font-weight="bold" text-anchor="end" fill="#111" stroke="#111" stroke-width="0.15">6-2, 6-3</text>
<line x1="440.92" y1="87.90" x2="440.92" y2="90.90" stroke="#000" stroke-width="1.0" />
<text transform="translate(442.62,94.50) rotate(-50)" font-size="5.2" font-weight="bold" text-anchor="end" fill="#111" stroke="#111" stroke-width="0.15">6-4</text>
<line x1="447.28" y1="87.90" x2="447.28" y2="90.90" stroke="#000" stroke-width="1.0" />
<text transform="translate(448.98,94.50) rotate(-50)" font-size="5.2" font-weight="bold" text-anchor="end" fill="#111" stroke="#111" stroke-width="0.15">6-5</text>
<line x1="453.64" y1="87.90" x2="453.64" y2="90.90" stroke="#000" stroke-width="1.0" />
<text transform="translate(455.34,94.50) rotate(-50)" font-size="5.2" font-weight="bold" text-anchor="end" fill="#111" stroke="#111" stroke-width="0.15">6-6</text>
<line x1="460.01" y1="87.90" x2="460.01" y2="90.90" stroke="#000" stroke-width="1.0" />
<text transform="translate(461.71,94.50) rotate(-50)" font-size="5.2" font-weight="bold" text-anchor="end" fill="#111" stroke="#111" stroke-width="0.15">6-8</text>
<line x1="466.37" y1="87.90" x2="466.37" y2="90.90" stroke="#000" stroke-width="1.0" />
<text transform="translate(468.07,94.50) rotate(-50)" font-size="5.2" font-weight="bold" text-anchor="end" fill="#111" stroke="#111" stroke-width="0.15">6-9</text>
<line x1="472.73" y1="87.90" x2="472.73" y2="90.90" stroke="#000" stroke-width="1.0" />
<text transform="translate(474.43,94.50) rotate(-50)" font-size="5.2" font-weight="bold" text-anchor="end" fill="#111" stroke="#111" stroke-width="0.15">7-2</text>
<line x1="479.09" y1="87.90" x2="479.09" y2="90.90" stroke="#000" stroke-width="1.0" />
<text transform="translate(480.79,94.50) rotate(-50)" font-size="5.2" font-weight="bold" text-anchor="end" fill="#111" stroke="#111" stroke-width="0.15">7-3</text>
<line x1="485.45" y1="87.90" x2="485.45" y2="90.90" stroke="#000" stroke-width="1.0" />
<text transform="translate(487.15,94.50) rotate(-50)" font-size="5.2" font-weight="bold" text-anchor="end" fill="#111" stroke="#111" stroke-width="0.15">7-4</text>
<line x1="491.82" y1="87.90" x2="491.82" y2="90.90" stroke="#000" stroke-width="1.0" />
<text transform="translate(493.52,94.50) rotate(-50)" font-size="5.2" font-weight="bold" text-anchor="end" fill="#111" stroke="#111" stroke-width="0.15">7-6</text>
<line x1="498.18" y1="87.90" x2="498.18" y2="90.90" stroke="#000" stroke-width="1.0" />
<text transform="translate(499.88,94.50) rotate(-50)" font-size="5.2" font-weight="bold" text-anchor="end" fill="#111" stroke="#111" stroke-width="0.15">7-7</text>
<line x1="504.54" y1="87.90" x2="504.54" y2="90.90" stroke="#000" stroke-width="1.0" />
<text transform="translate(506.24,94.50) rotate(-50)" font-size="5.2" font-weight="bold" text-anchor="end" fill="#111" stroke="#111" stroke-width="0.15">7-8</text>
<line x1="510.90" y1="87.90" x2="510.90" y2="90.90" stroke="#000" stroke-width="1.0" />
<text transform="translate(512.60,94.50) rotate(-50)" font-size="5.2" font-weight="bold" text-anchor="end" fill="#111" stroke="#111" stroke-width="0.15">7-9</text>
<line x1="517.26" y1="87.90" x2="517.26" y2="90.90" stroke="#000" stroke-width="1.0" />
<text transform="translate(518.96,94.50) rotate(-50)" font-size="5.2" font-weight="bold" text-anchor="end" fill="#111" stroke="#111" stroke-width="0.15">9</text>
<text x="368.50" y="123.00" font-size="8.9" text-anchor="middle" font-weight="normal" fill="#111" stroke="#111" stroke-width="0.28" textLength="63">TCR Vβ families</text>
<text transform="translate(4.02,137.71) scale(0.95,1)" font-size="13.6" font-weight="bold" fill="#000" stroke="#000" stroke-width="0.3">C</text>
<line x1="47.60" y1="155.20" x2="47.60" y2="190.30" stroke="#555" stroke-width="1.25" />
<line x1="47.60" y1="192.80" x2="47.60" y2="230.10" stroke="#555" stroke-width="1.25" />
<line x1="47.60" y1="229.70" x2="207.30" y2="229.70" stroke="#555" stroke-width="1.25" />
<line x1="45.60" y1="155.30" x2="47.60" y2="155.30" stroke="#555" stroke-width="1.0" />
<text x="46.10" y="158.30" font-size="8.85" text-anchor="end" font-weight="normal" fill="#111" stroke="#111" stroke-width="0.28" >40</text>
<line x1="45.60" y1="178.70" x2="47.60" y2="178.70" stroke="#555" stroke-width="1.0" />
<text x="46.10" y="181.70" font-size="8.85" text-anchor="end" font-weight="normal" fill="#111" stroke="#111" stroke-width="0.28" >20</text>
<line x1="45.60" y1="194.90" x2="47.60" y2="194.90" stroke="#555" stroke-width="1.0" />
<text x="46.10" y="197.90" font-size="8.85" text-anchor="end" font-weight="normal" fill="#111" stroke="#111" stroke-width="0.28" >10</text>
<line x1="45.60" y1="212.40" x2="47.60" y2="212.40" stroke="#555" stroke-width="1.0" />
<text x="46.10" y="215.40" font-size="8.85" text-anchor="end" font-weight="normal" fill="#111" stroke="#111" stroke-width="0.28" >5</text>
<line x1="45.60" y1="229.70" x2="47.60" y2="229.70" stroke="#555" stroke-width="1.0" />
<text x="46.10" y="232.70" font-size="8.85" text-anchor="end" font-weight="normal" fill="#111" stroke="#111" stroke-width="0.28" >0</text>
<text transform="translate(32.3,188.85) rotate(-90)" textLength="77" font-size="8.88" text-anchor="middle" fill="#111" stroke="#111" stroke-width="0.28">Relative expression</text>
<line x1="67.30" y1="229.70" x2="67.30" y2="232.00" stroke="#555" stroke-width="1.0" />
<line x1="107.30" y1="229.70" x2="107.30" y2="232.00" stroke="#555" stroke-width="1.0" />
<line x1="147.20" y1="229.70" x2="147.20" y2="232.00" stroke="#555" stroke-width="1.0" />
<line x1="187.20" y1="229.70" x2="187.20" y2="232.00" stroke="#555" stroke-width="1.0" />
<text x="64.50" y="246.80" font-size="8.95" text-anchor="middle" font-weight="normal" fill="#111" stroke="#111" stroke-width="0.28" >NT</text>
<text x="106.00" y="242.20" font-size="8.95" text-anchor="middle" font-weight="normal" fill="#111" stroke="#111" stroke-width="0.28" >iTCR<tspan dy="-3.2" font-size="5.2">+</tspan><tspan dy="3.2" font-size="1">&#8203;</tspan></text>
<text x="105.50" y="252.40" font-size="8.95" text-anchor="middle" font-weight="normal" fill="#111" stroke="#111" stroke-width="0.28" >Tyr-TCR<tspan dy="-3.2" font-size="5.2">−</tspan><tspan dy="3.2" font-size="1">&#8203;</tspan></text>
<text x="147.20" y="242.20" font-size="8.95" text-anchor="middle" font-weight="normal" fill="#111" stroke="#111" stroke-width="0.28" >iTCR<tspan dy="-3.2" font-size="5.2">+</tspan><tspan dy="3.2" font-size="1">&#8203;</tspan></text>
<text x="147.20" y="252.40" font-size="8.95" text-anchor="middle" font-weight="normal" fill="#111" stroke="#111" stroke-width="0.28" >Tyr-TCR<tspan dy="-3.2" font-size="5.2">+</tspan><tspan dy="3.2" font-size="1">&#8203;</tspan></text>
<text x="188.00" y="242.20" font-size="8.95" text-anchor="middle" font-weight="normal" fill="#111" stroke="#111" stroke-width="0.28" >iTCR<tspan dy="-3.2" font-size="5.2">−</tspan><tspan dy="3.2" font-size="1">&#8203;</tspan></text>
<text x="188.50" y="252.40" font-size="8.95" text-anchor="middle" font-weight="normal" fill="#111" stroke="#111" stroke-width="0.28" >Tyr-TCR<tspan dy="-3.2" font-size="5.2">+</tspan><tspan dy="3.2" font-size="1">&#8203;</tspan></text>
<circle cx="54.05" cy="226.50" r="2.25" fill="none" stroke="#111" stroke-width="0.85"/>
<circle cx="55.15" cy="226.30" r="2.25" fill="none" stroke="#111" stroke-width="0.85"/>
<circle cx="56.25" cy="226.66" r="2.25" fill="none" stroke="#111" stroke-width="0.85"/>
<circle cx="57.35" cy="226.38" r="2.25" fill="none" stroke="#111" stroke-width="0.85"/>
<circle cx="58.45" cy="226.70" r="2.25" fill="none" stroke="#111" stroke-width="0.85"/>
<circle cx="59.55" cy="226.42" r="2.25" fill="none" stroke="#111" stroke-width="0.85"/>
<circle cx="93.05" cy="226.50" r="2.25" fill="none" stroke="#111" stroke-width="0.85"/>
<circle cx="94.15" cy="226.00" r="2.25" fill="none" stroke="#111" stroke-width="0.85"/>
<circle cx="95.25" cy="226.90" r="2.25" fill="none" stroke="#111" stroke-width="0.85"/>
<circle cx="96.35" cy="226.20" r="2.25" fill="none" stroke="#111" stroke-width="0.85"/>
<circle cx="97.45" cy="227.00" r="2.25" fill="none" stroke="#111" stroke-width="0.85"/>
<circle cx="98.55" cy="226.30" r="2.25" fill="none" stroke="#111" stroke-width="0.85"/>
<circle cx="133.55" cy="226.50" r="2.25" fill="none" stroke="#111" stroke-width="0.85"/>
<circle cx="134.65" cy="226.00" r="2.25" fill="none" stroke="#111" stroke-width="0.85"/>
<circle cx="135.75" cy="226.90" r="2.25" fill="none" stroke="#111" stroke-width="0.85"/>
<circle cx="136.85" cy="226.20" r="2.25" fill="none" stroke="#111" stroke-width="0.85"/>
<circle cx="137.95" cy="227.00" r="2.25" fill="none" stroke="#111" stroke-width="0.85"/>
<circle cx="139.05" cy="226.30" r="2.25" fill="none" stroke="#111" stroke-width="0.85"/>
<circle cx="173.45" cy="226.50" r="2.25" fill="none" stroke="#111" stroke-width="0.85"/>
<circle cx="174.55" cy="226.30" r="2.25" fill="none" stroke="#111" stroke-width="0.85"/>
<circle cx="175.65" cy="226.66" r="2.25" fill="none" stroke="#111" stroke-width="0.85"/>
<circle cx="176.75" cy="226.38" r="2.25" fill="none" stroke="#111" stroke-width="0.85"/>
<circle cx="177.85" cy="226.70" r="2.25" fill="none" stroke="#111" stroke-width="0.85"/>
<circle cx="178.95" cy="226.42" r="2.25" fill="none" stroke="#111" stroke-width="0.85"/>
<rect x="62.50" y="228.00" width="4.00" height="4.00" fill="#333" stroke="#111" stroke-width="0.8" />
<rect x="64.40" y="228.00" width="4.00" height="4.00" fill="#333" stroke="#111" stroke-width="0.8" />
<rect x="66.30" y="228.00" width="4.00" height="4.00" fill="#333" stroke="#111" stroke-width="0.8" />
<rect x="68.20" y="228.00" width="4.00" height="4.00" fill="#333" stroke="#111" stroke-width="0.8" />
<rect x="70.10" y="228.00" width="4.00" height="4.00" fill="#333" stroke="#111" stroke-width="0.8" />
<rect x="74.00" y="228.00" width="4.00" height="4.00" fill="#9c9c9c" stroke="#5a5a5a" stroke-width="0.8" />
<rect x="75.90" y="228.00" width="4.00" height="4.00" fill="#9c9c9c" stroke="#5a5a5a" stroke-width="0.8" />
<rect x="77.80" y="228.00" width="4.00" height="4.00" fill="#9c9c9c" stroke="#5a5a5a" stroke-width="0.8" />
<rect x="79.70" y="228.00" width="4.00" height="4.00" fill="#9c9c9c" stroke="#5a5a5a" stroke-width="0.8" />
<rect x="81.60" y="228.00" width="4.00" height="4.00" fill="#9c9c9c" stroke="#5a5a5a" stroke-width="0.8" />
<rect x="102.50" y="228.00" width="4.00" height="4.00" fill="#333" stroke="#111" stroke-width="0.8" />
<rect x="104.40" y="228.00" width="4.00" height="4.00" fill="#333" stroke="#111" stroke-width="0.8" />
<rect x="106.30" y="228.00" width="4.00" height="4.00" fill="#333" stroke="#111" stroke-width="0.8" />
<rect x="108.20" y="228.00" width="4.00" height="4.00" fill="#333" stroke="#111" stroke-width="0.8" />
<rect x="110.10" y="228.00" width="4.00" height="4.00" fill="#333" stroke="#111" stroke-width="0.8" />
<rect x="114.00" y="228.00" width="4.00" height="4.00" fill="#9c9c9c" stroke="#5a5a5a" stroke-width="0.8" />
<rect x="115.90" y="228.00" width="4.00" height="4.00" fill="#9c9c9c" stroke="#5a5a5a" stroke-width="0.8" />
<rect x="117.80" y="228.00" width="4.00" height="4.00" fill="#9c9c9c" stroke="#5a5a5a" stroke-width="0.8" />
<rect x="119.70" y="228.00" width="4.00" height="4.00" fill="#9c9c9c" stroke="#5a5a5a" stroke-width="0.8" />
<rect x="121.60" y="228.00" width="4.00" height="4.00" fill="#9c9c9c" stroke="#5a5a5a" stroke-width="0.8" />
<rect x="145.67" y="204.88" width="3.85" height="3.85" fill="#333" stroke="#111" stroke-width="0.8" />
<rect x="142.77" y="211.67" width="3.85" height="3.85" fill="#333" stroke="#111" stroke-width="0.8" />
<rect x="146.97" y="212.88" width="3.85" height="3.85" fill="#333" stroke="#111" stroke-width="0.8" />
<rect x="144.88" y="215.88" width="3.85" height="3.85" fill="#333" stroke="#111" stroke-width="0.8" />
<rect x="145.67" y="220.88" width="3.85" height="3.85" fill="#333" stroke="#111" stroke-width="0.8" />
<line x1="143.60" y1="215.20" x2="151.20" y2="215.20" stroke="#111" stroke-width="0.8" />
<rect x="159.38" y="199.67" width="3.85" height="3.85" fill="#9c9c9c" stroke="#5a5a5a" stroke-width="0.8" />
<rect x="154.57" y="202.57" width="3.85" height="3.85" fill="#9c9c9c" stroke="#5a5a5a" stroke-width="0.8" />
<rect x="156.17" y="210.07" width="3.85" height="3.85" fill="#9c9c9c" stroke="#5a5a5a" stroke-width="0.8" />
<rect x="156.17" y="213.88" width="3.85" height="3.85" fill="#9c9c9c" stroke="#5a5a5a" stroke-width="0.8" />
<rect x="156.17" y="223.57" width="3.85" height="3.85" fill="#9c9c9c" stroke="#5a5a5a" stroke-width="0.8" />
<line x1="154.20" y1="211.80" x2="162.20" y2="211.80" stroke="#444" stroke-width="0.8" />
<rect x="182.07" y="172.27" width="3.85" height="3.85" fill="#333" stroke="#111" stroke-width="0.8" />
<rect x="186.88" y="175.88" width="3.85" height="3.85" fill="#333" stroke="#111" stroke-width="0.8" />
<rect x="188.47" y="177.57" width="3.85" height="3.85" fill="#333" stroke="#111" stroke-width="0.8" />
<rect x="182.07" y="182.38" width="3.85" height="3.85" fill="#333" stroke="#111" stroke-width="0.8" />
<rect x="185.38" y="182.88" width="3.85" height="3.85" fill="#333" stroke="#111" stroke-width="0.8" />
<line x1="183.00" y1="180.20" x2="191.00" y2="180.20" stroke="#111" stroke-width="0.8" />
<rect x="199.38" y="158.67" width="3.85" height="3.85" fill="#9c9c9c" stroke="#5a5a5a" stroke-width="0.8" />
<rect x="194.07" y="162.57" width="3.85" height="3.85" fill="#9c9c9c" stroke="#5a5a5a" stroke-width="0.8" />
<rect x="196.07" y="165.27" width="3.85" height="3.85" fill="#9c9c9c" stroke="#5a5a5a" stroke-width="0.8" />
<rect x="195.77" y="169.07" width="3.85" height="3.85" fill="#9c9c9c" stroke="#5a5a5a" stroke-width="0.8" />
<rect x="196.07" y="183.27" width="3.85" height="3.85" fill="#9c9c9c" stroke="#5a5a5a" stroke-width="0.8" />
<line x1="194.00" y1="169.70" x2="202.00" y2="169.70" stroke="#555" stroke-width="1.0" />
<line x1="152.10" y1="152.50" x2="197.80" y2="152.50" stroke="#666" stroke-width="0.9" />
<text x="177.80" y="153.60" font-size="8.3" text-anchor="middle" font-weight="normal" fill="#b0b0b0" stroke="#b0b0b0" stroke-width="0.28" letter-spacing="0.3">***</text>
<line x1="145.20" y1="164.50" x2="186.00" y2="164.50" stroke="#444" stroke-width="0.9" />
<text x="164.80" y="166.40" font-size="8.3" text-anchor="middle" font-weight="normal" fill="#444" stroke="#444" stroke-width="0.28" letter-spacing="0.3">***</text>
<circle cx="213.50" cy="145.80" r="2.1" fill="#fff" stroke="#111" stroke-width="0.8"/>
<rect x="211.75" y="153.50" width="3.80" height="3.80" fill="#333" stroke="#111" stroke-width="0.8" />
<rect x="211.75" y="162.70" width="3.80" height="3.80" fill="#9c9c9c" stroke="#5a5a5a" stroke-width="0.8" />
<text x="218.00" y="147.90" font-size="8.8" text-anchor="start" font-weight="normal" fill="#111" stroke="#111" stroke-width="0.28" >Vα24</text>
<text x="218.00" y="158.40" font-size="8.8" text-anchor="start" font-weight="normal" fill="#111" stroke="#111" stroke-width="0.28" >Tyr-TRAC</text>
<text x="218.00" y="168.50" font-size="8.8" text-anchor="start" font-weight="normal" fill="#111" stroke="#111" stroke-width="0.28" >Tyr-TRBC</text>
<text transform="translate(286.33,137.45) scale(1.02,1)" font-size="13.4" font-weight="bold" fill="#000" stroke="#000" stroke-width="0.3">D</text>
<line x1="340.80" y1="150.00" x2="340.80" y2="195.90" stroke="#4a4a4a" stroke-width="1.2" />
<line x1="340.80" y1="198.20" x2="340.80" y2="230.30" stroke="#4a4a4a" stroke-width="1.2" />
<line x1="340.80" y1="229.90" x2="457.80" y2="229.90" stroke="#4a4a4a" stroke-width="1.2" />
<line x1="338.80" y1="150.40" x2="340.80" y2="150.40" stroke="#4a4a4a" stroke-width="1.0" />
<text x="339.30" y="153.40" font-size="8.4" text-anchor="end" font-weight="normal" fill="#111" stroke="#111" stroke-width="0.28" >8 × 10<tspan dy="-2.6" font-size="5.2">5</tspan></text>
<line x1="338.80" y1="178.00" x2="340.80" y2="178.00" stroke="#4a4a4a" stroke-width="1.0" />
<text x="339.30" y="181.00" font-size="8.4" text-anchor="end" font-weight="normal" fill="#111" stroke="#111" stroke-width="0.28" >4 × 10<tspan dy="-2.6" font-size="5.2">5</tspan></text>
<line x1="338.80" y1="199.80" x2="340.80" y2="199.80" stroke="#4a4a4a" stroke-width="1.0" />
<text x="339.30" y="202.80" font-size="8.4" text-anchor="end" font-weight="normal" fill="#111" stroke="#111" stroke-width="0.28" >1.4 × 10<tspan dy="-2.6" font-size="5.2">5</tspan></text>
<line x1="338.80" y1="215.20" x2="340.80" y2="215.20" stroke="#4a4a4a" stroke-width="1.0" />
<text x="339.30" y="218.20" font-size="8.4" text-anchor="end" font-weight="normal" fill="#111" stroke="#111" stroke-width="0.28" >7.0 × 10<tspan dy="-2.6" font-size="5.2">4</tspan></text>
<line x1="338.80" y1="229.90" x2="340.80" y2="229.90" stroke="#4a4a4a" stroke-width="1.0" />
<text x="339.30" y="232.90" font-size="8.4" text-anchor="end" font-weight="normal" fill="#111" stroke="#111" stroke-width="0.28" >0.0</text>
<text transform="translate(300.8,189.5) rotate(-90)" textLength="83.5" font-size="8.7" text-anchor="middle" fill="#111" stroke="#111" stroke-width="0.28"># Copies/100 ng DNA</text>
<line x1="360.50" y1="229.90" x2="360.50" y2="232.20" stroke="#4a4a4a" stroke-width="1.0" />
<line x1="399.50" y1="229.90" x2="399.50" y2="232.20" stroke="#4a4a4a" stroke-width="1.0" />
<line x1="438.80" y1="229.90" x2="438.80" y2="232.20" stroke="#4a4a4a" stroke-width="1.0" />
<text x="360.00" y="244.40" font-size="8.95" text-anchor="middle" font-weight="normal" fill="#111" stroke="#111" stroke-width="0.28" >NT</text>
<text x="399.60" y="244.40" font-size="8.95" text-anchor="middle" font-weight="normal" fill="#111" stroke="#111" stroke-width="0.28" >iTCR<tspan dy="-3.2" font-size="5.2">+</tspan><tspan dy="3.2" font-size="1">&#8203;</tspan></text>
<text x="399.60" y="255.00" font-size="8.95" text-anchor="middle" font-weight="normal" fill="#111" stroke="#111" stroke-width="0.28" >Tyr-TCR<tspan dy="-3.2" font-size="5.2">+</tspan><tspan dy="3.2" font-size="1">&#8203;</tspan></text>
<text x="438.60" y="244.40" font-size="8.95" text-anchor="middle" font-weight="normal" fill="#111" stroke="#111" stroke-width="0.28" >iTCR<tspan dy="-3.2" font-size="5.2">−</tspan><tspan dy="3.2" font-size="1">&#8203;</tspan></text>
<text x="439.40" y="255.00" font-size="8.95" text-anchor="middle" font-weight="normal" fill="#111" stroke="#111" stroke-width="0.28" >Tyr-TCR<tspan dy="-3.2" font-size="5.2">+</tspan><tspan dy="3.2" font-size="1">&#8203;</tspan></text>
<rect x="349.00" y="228.00" width="4.00" height="4.00" fill="#333" stroke="#111" stroke-width="0.8" />
<rect x="363.80" y="228.00" width="4.00" height="4.00" fill="#9c9c9c" stroke="#5a5a5a" stroke-width="0.8" />
<rect x="350.50" y="228.00" width="4.00" height="4.00" fill="#333" stroke="#111" stroke-width="0.8" />
<rect x="365.30" y="228.00" width="4.00" height="4.00" fill="#9c9c9c" stroke="#5a5a5a" stroke-width="0.8" />
<rect x="352.00" y="228.00" width="4.00" height="4.00" fill="#333" stroke="#111" stroke-width="0.8" />
<rect x="366.80" y="228.00" width="4.00" height="4.00" fill="#9c9c9c" stroke="#5a5a5a" stroke-width="0.8" />
<rect x="353.50" y="228.00" width="4.00" height="4.00" fill="#333" stroke="#111" stroke-width="0.8" />
<rect x="368.30" y="228.00" width="4.00" height="4.00" fill="#9c9c9c" stroke="#5a5a5a" stroke-width="0.8" />
<rect x="390.18" y="206.27" width="3.85" height="3.85" fill="#333" stroke="#111" stroke-width="0.8" />
<rect x="387.47" y="210.57" width="3.85" height="3.85" fill="#333" stroke="#111" stroke-width="0.8" />
<rect x="394.77" y="216.07" width="3.85" height="3.85" fill="#333" stroke="#111" stroke-width="0.8" />
<rect x="392.07" y="219.27" width="3.85" height="3.85" fill="#333" stroke="#111" stroke-width="0.8" />
<rect x="387.47" y="223.27" width="3.85" height="3.85" fill="#333" stroke="#111" stroke-width="0.8" />
<line x1="387.50" y1="216.60" x2="395.00" y2="216.60" stroke="#111" stroke-width="0.8" />
<rect x="407.07" y="199.07" width="3.85" height="3.85" fill="#9c9c9c" stroke="#5a5a5a" stroke-width="0.8" />
<rect x="402.27" y="202.57" width="3.85" height="3.85" fill="#9c9c9c" stroke="#5a5a5a" stroke-width="0.8" />
<rect x="404.18" y="212.47" width="3.85" height="3.85" fill="#9c9c9c" stroke="#5a5a5a" stroke-width="0.8" />
<rect x="407.07" y="215.17" width="3.85" height="3.85" fill="#9c9c9c" stroke="#5a5a5a" stroke-width="0.8" />
<rect x="402.27" y="220.57" width="3.85" height="3.85" fill="#9c9c9c" stroke="#5a5a5a" stroke-width="0.8" />
<line x1="402.00" y1="211.70" x2="411.00" y2="211.70" stroke="#444" stroke-width="0.8" />
<rect x="428.68" y="157.88" width="3.85" height="3.85" fill="#333" stroke="#111" stroke-width="0.8" />
<rect x="426.57" y="175.57" width="3.85" height="3.85" fill="#333" stroke="#111" stroke-width="0.8" />
<rect x="430.57" y="175.57" width="3.85" height="3.85" fill="#333" stroke="#111" stroke-width="0.8" />
<rect x="428.68" y="178.38" width="3.85" height="3.85" fill="#333" stroke="#111" stroke-width="0.8" />
<rect x="428.68" y="188.27" width="3.85" height="3.85" fill="#333" stroke="#111" stroke-width="0.8" />
<line x1="426.30" y1="176.60" x2="435.20" y2="176.60" stroke="#4a4a4a" stroke-width="1.0" />
<rect x="443.47" y="156.77" width="3.85" height="3.85" fill="#9c9c9c" stroke="#5a5a5a" stroke-width="0.8" />
<rect x="443.47" y="164.88" width="3.85" height="3.85" fill="#9c9c9c" stroke="#5a5a5a" stroke-width="0.8" />
<rect x="442.68" y="176.67" width="3.85" height="3.85" fill="#9c9c9c" stroke="#5a5a5a" stroke-width="0.8" />
<rect x="445.97" y="177.47" width="3.85" height="3.85" fill="#9c9c9c" stroke="#5a5a5a" stroke-width="0.8" />
<rect x="441.38" y="183.38" width="3.85" height="3.85" fill="#9c9c9c" stroke="#5a5a5a" stroke-width="0.8" />
<line x1="442.00" y1="174.00" x2="450.50" y2="174.00" stroke="#444" stroke-width="0.9" />
<line x1="404.20" y1="142.60" x2="445.20" y2="142.60" stroke="#777" stroke-width="0.9" />
<text x="425.90" y="143.80" font-size="7.6" text-anchor="middle" font-weight="normal" fill="#b0b0b0" stroke="#b0b0b0" stroke-width="0.28" letter-spacing="0.3">**</text>
<line x1="387.50" y1="153.80" x2="428.00" y2="153.80" stroke="#444" stroke-width="0.9" />
<text x="409.50" y="155.60" font-size="7.6" text-anchor="middle" font-weight="normal" fill="#444" stroke="#444" stroke-width="0.28" letter-spacing="0.3">**</text>
<rect x="459.60" y="148.90" width="3.80" height="3.80" fill="#333" stroke="#111" stroke-width="0.8" />
<rect x="459.60" y="158.00" width="3.80" height="3.80" fill="#9c9c9c" stroke="#5a5a5a" stroke-width="0.8" />
<text x="466.00" y="153.70" font-size="8.8" text-anchor="start" font-weight="normal" fill="#111" stroke="#111" stroke-width="0.28" >Tyr-TRAC</text>
<text x="466.00" y="164.40" font-size="8.8" text-anchor="start" font-weight="normal" fill="#111" stroke="#111" stroke-width="0.28" >Tyr-TRBC</text>
<text transform="translate(4.44,268.55) scale(0.97,1)" font-size="14.0" font-weight="bold" fill="#000" stroke="#000" stroke-width="0.3">E</text>
<rect x="111.60" y="318.40" width="11.00" height="40.80" fill="#fff" stroke="#222" stroke-width="0.9" />
<rect x="127.80" y="333.60" width="11.20" height="25.60" fill="#fff" stroke="#8c8c8c" stroke-width="0.9" />
<rect x="143.80" y="355.00" width="10.60" height="4.20" fill="#fff" stroke="#222" stroke-width="0.9" />
<line x1="45.60" y1="280.50" x2="45.60" y2="359.60" stroke="#333" stroke-width="1.05" />
<line x1="45.60" y1="359.20" x2="162.30" y2="359.20" stroke="#333" stroke-width="1.05" />
<line x1="43.60" y1="359.20" x2="45.60" y2="359.20" stroke="#333" stroke-width="0.9" />
<text x="43.60" y="362.00" font-size="8.0" text-anchor="end" font-weight="normal" fill="#111" stroke="#111" stroke-width="0.28" >0</text>
<line x1="43.60" y1="333.10" x2="45.60" y2="333.10" stroke="#333" stroke-width="0.9" />
<text x="43.60" y="335.90" font-size="8.0" text-anchor="end" font-weight="normal" fill="#111" stroke="#111" stroke-width="0.28" >5,000</text>
<line x1="43.60" y1="307.00" x2="45.60" y2="307.00" stroke="#333" stroke-width="0.9" />
<text x="43.60" y="309.80" font-size="8.0" text-anchor="end" font-weight="normal" fill="#111" stroke="#111" stroke-width="0.28" >10,000</text>
<line x1="43.60" y1="280.90" x2="45.60" y2="280.90" stroke="#333" stroke-width="0.9" />
<text x="43.60" y="283.70" font-size="8.0" text-anchor="end" font-weight="normal" fill="#111" stroke="#111" stroke-width="0.28" >15,000</text>
<text transform="translate(15.6,318.3) rotate(-90)" textLength="87.4" font-size="8.25" text-anchor="middle" fill="#111" stroke="#111" stroke-width="0.28">IFNγ (pg/mL/10<tspan dy="-2.6" font-size="5">5</tspan><tspan dy="2.6"> cells)</tspan></text>
<line x1="97.90" y1="359.20" x2="97.90" y2="367.00" stroke="#111" stroke-width="1.0" />
<text x="68.50" y="370.60" font-size="9.0" text-anchor="middle" font-weight="normal" fill="#111" stroke="#111" stroke-width="0.28" >IgG</text>
<text x="125.60" y="370.80" font-size="9.0" text-anchor="middle" font-weight="normal" fill="#111" stroke="#111" stroke-width="0.28" >Anti-iNKT</text>
<polygon points="57.00,356.78 54.80,361.18 59.20,361.18" fill="#111" stroke="#111" stroke-width="0.8" stroke-linejoin="miter"/>
<polygon points="58.30,356.78 56.10,361.18 60.50,361.18" fill="#111" stroke="#111" stroke-width="0.8" stroke-linejoin="miter"/>
<polygon points="59.60,356.78 57.40,361.18 61.80,361.18" fill="#111" stroke="#111" stroke-width="0.8" stroke-linejoin="miter"/>
<polygon points="60.90,356.78 58.70,361.18 63.10,361.18" fill="#111" stroke="#111" stroke-width="0.8" stroke-linejoin="miter"/>
<polygon points="73.00,356.94 70.85,361.24 75.15,361.24" fill="#999" stroke="#777" stroke-width="0.8" stroke-linejoin="miter"/>
<polygon points="74.40,356.94 72.25,361.24 76.55,361.24" fill="#999" stroke="#777" stroke-width="0.8" stroke-linejoin="miter"/>
<polygon points="75.80,356.94 73.65,361.24 77.95,361.24" fill="#999" stroke="#777" stroke-width="0.8" stroke-linejoin="miter"/>
<polygon points="87.40,356.78 85.20,361.18 89.60,361.18" fill="#111" stroke="#111" stroke-width="0.8" stroke-linejoin="miter"/>
<polygon points="88.90,355.98 86.70,360.38 91.10,360.38" fill="#111" stroke="#111" stroke-width="0.8" stroke-linejoin="miter"/>
<polygon points="90.40,356.78 88.20,361.18 92.60,361.18" fill="#111" stroke="#111" stroke-width="0.8" stroke-linejoin="miter"/>
<polygon points="91.90,355.98 89.70,360.38 94.10,360.38" fill="#111" stroke="#111" stroke-width="0.8" stroke-linejoin="miter"/>
<polygon points="93.40,356.78 91.20,361.18 95.60,361.18" fill="#111" stroke="#111" stroke-width="0.8" stroke-linejoin="miter"/>
<polygon points="117.30,288.55 114.80,293.55 119.80,293.55" fill="#fff" stroke="#111" stroke-width="0.8" stroke-linejoin="miter"/>
<polygon points="117.30,308.55 114.80,313.55 119.80,313.55" fill="#fff" stroke="#111" stroke-width="0.8" stroke-linejoin="miter"/>
<polygon points="114.40,319.55 111.90,324.55 116.90,324.55" fill="#fff" stroke="#111" stroke-width="0.8" stroke-linejoin="miter"/>
<polygon points="120.20,325.25 117.70,330.25 122.70,330.25" fill="#fff" stroke="#111" stroke-width="0.8" stroke-linejoin="miter"/>
<polygon points="117.20,339.25 114.70,344.25 119.70,344.25" fill="#fff" stroke="#111" stroke-width="0.8" stroke-linejoin="miter"/>
<polygon points="133.60,299.35 131.55,303.45 135.65,303.45" fill="#8a8a8a" stroke="#777" stroke-width="0.6" stroke-linejoin="miter"/>
<polygon points="131.00,333.75 128.95,337.85 133.05,337.85" fill="#8a8a8a" stroke="#777" stroke-width="0.6" stroke-linejoin="miter"/>
<polygon points="136.00,334.25 133.95,338.35 138.05,338.35" fill="#8a8a8a" stroke="#777" stroke-width="0.6" stroke-linejoin="miter"/>
<polygon points="136.00,339.75 133.95,343.85 138.05,343.85" fill="#8a8a8a" stroke="#777" stroke-width="0.6" stroke-linejoin="miter"/>
<polygon points="131.00,347.75 128.95,351.85 133.05,351.85" fill="#8a8a8a" stroke="#777" stroke-width="0.6" stroke-linejoin="miter"/>
<polygon points="147.60,349.38 145.40,353.78 149.80,353.78" fill="#111" stroke="#111" stroke-width="0.6" stroke-linejoin="miter"/>
<polygon points="150.20,351.18 148.00,355.58 152.40,355.58" fill="#111" stroke="#111" stroke-width="0.6" stroke-linejoin="miter"/>
<polygon points="146.40,352.98 144.20,357.38 148.60,357.38" fill="#111" stroke="#111" stroke-width="0.6" stroke-linejoin="miter"/>
<polygon points="151.40,353.58 149.20,357.98 153.60,357.98" fill="#111" stroke="#111" stroke-width="0.6" stroke-linejoin="miter"/>
<polygon points="149.00,355.18 146.80,359.58 151.20,359.58" fill="#111" stroke="#111" stroke-width="0.6" stroke-linejoin="miter"/>
<line x1="126.60" y1="293.50" x2="143.00" y2="293.50" stroke="#222" stroke-width="1.0" />
<text x="135.80" y="294.40" font-size="7.0" text-anchor="middle" font-weight="normal" fill="#222" stroke="#222" stroke-width="0.28" >*</text>
<polygon points="153.00,280.51 151.10,284.31 154.90,284.31" fill="#fff" stroke="#111" stroke-width="0.8" stroke-linejoin="miter"/>
<polygon points="153.00,290.33 151.30,293.73 154.70,293.73" fill="#999" stroke="#888" stroke-width="0.5" stroke-linejoin="miter"/>
<polygon points="153.00,299.40 151.00,303.40 155.00,303.40" fill="#111" stroke="#111" stroke-width="0.6" stroke-linejoin="miter"/>
<text x="161.40" y="284.90" font-size="8.5" text-anchor="start" font-weight="normal" fill="#111" stroke="#111" stroke-width="0.28" style="stroke-width:0.42px" lengthAdjust="spacingAndGlyphs" textLength="10.2">NT</text>
<text x="161.20" y="295.50" font-size="8.15" text-anchor="start" font-weight="normal" fill="#aaa" stroke="#aaa" stroke-width="0.28" >iTCR<tspan dy="-3.2" font-size="5.2">+</tspan><tspan dy="3.2" font-size="1">&#8203;</tspan>Tyr-TCR<tspan dy="-3.2" font-size="5.2">+</tspan><tspan dy="3.2" font-size="1">&#8203;</tspan></text>
<text x="161.40" y="304.50" font-size="8.4" text-anchor="start" font-weight="normal" fill="#111" stroke="#111" stroke-width="0.28" style="stroke-width:0.42px" lengthAdjust="spacingAndGlyphs" textLength="58">iTCR<tspan dy="-3.2" font-size="5.2">−</tspan><tspan dy="3.2" font-size="1">&#8203;</tspan> Tyr-TCR<tspan dy="-3.2" font-size="5.2">+</tspan><tspan dy="3.2" font-size="1">&#8203;</tspan></text>
<text transform="translate(222.51,268.40) scale(0.97,1)" font-size="13.7" font-weight="bold" fill="#000" stroke="#000" stroke-width="0.3">F</text>
<rect x="331.40" y="318.40" width="13.80" height="40.20" fill="#fff" stroke="#808080" stroke-width="0.95" />
<rect x="350.90" y="321.60" width="13.70" height="37.00" fill="#fff" stroke="#333" stroke-width="1.05" />
<line x1="250.50" y1="280.95" x2="250.50" y2="359.00" stroke="#333" stroke-width="1.05" />
<line x1="250.50" y1="358.60" x2="367.00" y2="358.60" stroke="#333" stroke-width="1.05" />
<line x1="248.50" y1="358.60" x2="250.50" y2="358.60" stroke="#333" stroke-width="0.9" />
<text x="248.50" y="361.70" font-size="8.9" text-anchor="end" font-weight="normal" fill="#111" stroke="#111" stroke-width="0.28" >0</text>
<line x1="248.50" y1="343.15" x2="250.50" y2="343.15" stroke="#333" stroke-width="0.9" />
<text x="248.50" y="346.25" font-size="8.9" text-anchor="end" font-weight="normal" fill="#111" stroke="#111" stroke-width="0.28" >20</text>
<line x1="248.50" y1="327.70" x2="250.50" y2="327.70" stroke="#333" stroke-width="0.9" />
<text x="248.50" y="330.80" font-size="8.9" text-anchor="end" font-weight="normal" fill="#111" stroke="#111" stroke-width="0.28" >40</text>
<line x1="248.50" y1="312.25" x2="250.50" y2="312.25" stroke="#333" stroke-width="0.9" />
<text x="248.50" y="315.35" font-size="8.9" text-anchor="end" font-weight="normal" fill="#111" stroke="#111" stroke-width="0.28" >60</text>
<line x1="248.50" y1="296.80" x2="250.50" y2="296.80" stroke="#333" stroke-width="0.9" />
<text x="248.50" y="299.90" font-size="8.9" text-anchor="end" font-weight="normal" fill="#111" stroke="#111" stroke-width="0.28" >80</text>
<line x1="248.50" y1="281.35" x2="250.50" y2="281.35" stroke="#333" stroke-width="0.9" />
<text x="248.50" y="284.45" font-size="8.9" text-anchor="end" font-weight="normal" fill="#111" stroke="#111" stroke-width="0.28" >100</text>
<text transform="translate(232.0,321.75) rotate(-90)" textLength="68.8" font-size="8.6" text-anchor="middle" fill="#111" stroke="#111" stroke-width="0.28">% of specific lysis</text>
<line x1="310.00" y1="358.60" x2="310.00" y2="367.20" stroke="#333" stroke-width="0.85" />
<line x1="338.30" y1="358.60" x2="338.30" y2="360.60" stroke="#444" stroke-width="0.7" />
<line x1="357.60" y1="358.60" x2="357.60" y2="360.60" stroke="#444" stroke-width="0.7" />
<text x="280.30" y="370.80" font-size="9.0" text-anchor="middle" font-weight="normal" fill="#111" stroke="#111" stroke-width="0.28" >Irrel</text>
<text x="338.80" y="370.80" font-size="9.0" text-anchor="middle" font-weight="normal" fill="#111" stroke="#111" stroke-width="0.28" >YMD</text>
<polygon points="257.40,356.06 255.00,360.86 259.80,360.86" fill="#fff" stroke="#111" stroke-width="0.9" stroke-linejoin="miter"/>
<polygon points="259.65,356.06 257.25,360.86 262.05,360.86" fill="#fff" stroke="#111" stroke-width="0.9" stroke-linejoin="miter"/>
<polygon points="261.90,356.06 259.50,360.86 264.30,360.86" fill="#fff" stroke="#111" stroke-width="0.9" stroke-linejoin="miter"/>
<polygon points="264.15,356.06 261.75,360.86 266.55,360.86" fill="#fff" stroke="#111" stroke-width="0.9" stroke-linejoin="miter"/>
<polygon points="276.60,356.48 274.40,360.88 278.80,360.88" fill="#bbb" stroke="#777" stroke-width="0.7" stroke-linejoin="miter"/>
<polygon points="278.90,356.48 276.70,360.88 281.10,360.88" fill="#bbb" stroke="#777" stroke-width="0.7" stroke-linejoin="miter"/>
<polygon points="281.20,356.48 279.00,360.88 283.40,360.88" fill="#bbb" stroke="#777" stroke-width="0.7" stroke-linejoin="miter"/>
<polygon points="283.50,354.28 281.30,358.68 285.70,358.68" fill="#bbb" stroke="#777" stroke-width="0.7" stroke-linejoin="miter"/>
<polygon points="295.90,356.48 293.70,360.88 298.10,360.88" fill="#111" stroke="#111" stroke-width="0.6" stroke-linejoin="miter"/>
<polygon points="298.10,356.48 295.90,360.88 300.30,360.88" fill="#111" stroke="#111" stroke-width="0.6" stroke-linejoin="miter"/>
<polygon points="300.30,356.48 298.10,360.88 302.50,360.88" fill="#111" stroke="#111" stroke-width="0.6" stroke-linejoin="miter"/>
<polygon points="302.50,356.48 300.30,360.88 304.70,360.88" fill="#111" stroke="#111" stroke-width="0.6" stroke-linejoin="miter"/>
<polygon points="315.60,356.06 313.20,360.86 318.00,360.86" fill="#fff" stroke="#111" stroke-width="0.9" stroke-linejoin="miter"/>
<polygon points="317.80,356.06 315.40,360.86 320.20,360.86" fill="#fff" stroke="#111" stroke-width="0.9" stroke-linejoin="miter"/>
<polygon points="320.00,356.06 317.60,360.86 322.40,360.86" fill="#fff" stroke="#111" stroke-width="0.9" stroke-linejoin="miter"/>
<polygon points="322.20,356.06 319.80,360.86 324.60,360.86" fill="#fff" stroke="#111" stroke-width="0.9" stroke-linejoin="miter"/>
<polygon points="338.30,310.09 336.20,314.29 340.40,314.29" fill="#8a8a8a" stroke="#777" stroke-width="0.6" stroke-linejoin="miter"/>
<polygon points="335.00,316.69 332.90,320.89 337.10,320.89" fill="#8a8a8a" stroke="#777" stroke-width="0.6" stroke-linejoin="miter"/>
<polygon points="341.20,317.69 339.10,321.89 343.30,321.89" fill="#8a8a8a" stroke="#777" stroke-width="0.6" stroke-linejoin="miter"/>
<polygon points="338.30,320.09 336.20,324.29 340.40,324.29" fill="#8a8a8a" stroke="#777" stroke-width="0.6" stroke-linejoin="miter"/>
<polygon points="357.50,309.92 355.25,314.42 359.75,314.42" fill="#111" stroke="#111" stroke-width="0.6" stroke-linejoin="miter"/>
<polygon points="357.50,318.72 355.25,323.22 359.75,323.22" fill="#111" stroke="#111" stroke-width="0.6" stroke-linejoin="miter"/>
<polygon points="360.60,321.02 358.35,325.52 362.85,325.52" fill="#111" stroke="#111" stroke-width="0.6" stroke-linejoin="miter"/>
<polygon points="354.10,327.12 351.85,331.62 356.35,331.62" fill="#111" stroke="#111" stroke-width="0.6" stroke-linejoin="miter"/>
<rect x="483.80" y="335.70" width="13.80" height="22.90" fill="#fff" stroke="#858585" stroke-width="1.0" />
<rect x="503.60" y="323.00" width="13.70" height="35.60" fill="#fff" stroke="#111" stroke-width="1.1" />
<line x1="403.00" y1="280.65" x2="403.00" y2="359.00" stroke="#333" stroke-width="1.05" />
<line x1="403.00" y1="358.60" x2="519.50" y2="358.60" stroke="#333" stroke-width="1.05" />
<line x1="401.00" y1="358.60" x2="403.00" y2="358.60" stroke="#333" stroke-width="0.9" />
<text x="400.70" y="361.70" font-size="8.8" text-anchor="end" font-weight="normal" fill="#111" stroke="#111" stroke-width="0.28" >0</text>
<line x1="401.00" y1="332.75" x2="403.00" y2="332.75" stroke="#333" stroke-width="0.9" />
<text x="400.70" y="335.85" font-size="8.8" text-anchor="end" font-weight="normal" fill="#111" stroke="#111" stroke-width="0.28" >200</text>
<line x1="401.00" y1="306.90" x2="403.00" y2="306.90" stroke="#333" stroke-width="0.9" />
<text x="400.70" y="310.00" font-size="8.8" text-anchor="end" font-weight="normal" fill="#111" stroke="#111" stroke-width="0.28" >400</text>
<line x1="401.00" y1="281.05" x2="403.00" y2="281.05" stroke="#333" stroke-width="0.9" />
<text x="400.70" y="284.15" font-size="8.8" text-anchor="end" font-weight="normal" fill="#111" stroke="#111" stroke-width="0.28" >600</text>
<text transform="translate(382.2,316.1) rotate(-90)" textLength="87.5" font-size="8.28" text-anchor="middle" fill="#111" stroke="#111" stroke-width="0.28">IFNγ (pg/mL/10<tspan dy="-2.6" font-size="5">5</tspan><tspan dy="2.6"> cells)</tspan></text>
<line x1="461.30" y1="358.60" x2="461.30" y2="367.40" stroke="#333" stroke-width="0.85" />
<line x1="490.80" y1="358.60" x2="490.80" y2="360.60" stroke="#444" stroke-width="0.7" />
<line x1="510.40" y1="358.60" x2="510.40" y2="360.60" stroke="#444" stroke-width="0.7" />
<text x="432.20" y="370.80" font-size="9.0" text-anchor="middle" font-weight="normal" fill="#111" stroke="#111" stroke-width="0.28" >Irrel</text>
<text x="491.00" y="370.80" font-size="9.0" text-anchor="middle" font-weight="normal" fill="#111" stroke="#111" stroke-width="0.28" >YMD</text>
<polygon points="408.90,355.90 406.90,359.90 410.90,359.90" fill="#eee" stroke="#000" stroke-width="1.1" stroke-linejoin="miter"/>
<polygon points="411.60,357.10 409.60,361.10 413.60,361.10" fill="#eee" stroke="#000" stroke-width="1.1" stroke-linejoin="miter"/>
<polygon points="414.30,355.90 412.30,359.90 416.30,359.90" fill="#eee" stroke="#000" stroke-width="1.1" stroke-linejoin="miter"/>
<polygon points="417.00,357.10 415.00,361.10 419.00,361.10" fill="#eee" stroke="#000" stroke-width="1.1" stroke-linejoin="miter"/>
<polygon points="428.60,356.18 426.40,360.58 430.80,360.58" fill="#bbb" stroke="#777" stroke-width="0.7" stroke-linejoin="miter"/>
<polygon points="431.00,356.98 428.80,361.38 433.20,361.38" fill="#bbb" stroke="#777" stroke-width="0.7" stroke-linejoin="miter"/>
<polygon points="433.40,356.18 431.20,360.58 435.60,360.58" fill="#bbb" stroke="#777" stroke-width="0.7" stroke-linejoin="miter"/>
<polygon points="435.80,356.98 433.60,361.38 438.00,361.38" fill="#bbb" stroke="#777" stroke-width="0.7" stroke-linejoin="miter"/>
<polygon points="446.90,355.57 444.60,360.17 449.20,360.17" fill="#000" stroke="#000" stroke-width="0.6" stroke-linejoin="miter"/>
<polygon points="449.40,356.97 447.10,361.57 451.70,361.57" fill="#000" stroke="#000" stroke-width="0.6" stroke-linejoin="miter"/>
<polygon points="451.90,355.57 449.60,360.17 454.20,360.17" fill="#000" stroke="#000" stroke-width="0.6" stroke-linejoin="miter"/>
<polygon points="454.40,356.97 452.10,361.57 456.70,361.57" fill="#000" stroke="#000" stroke-width="0.6" stroke-linejoin="miter"/>
<polygon points="456.90,355.57 454.60,360.17 459.20,360.17" fill="#000" stroke="#000" stroke-width="0.6" stroke-linejoin="miter"/>
<polygon points="466.90,355.90 464.90,359.90 468.90,359.90" fill="#eee" stroke="#000" stroke-width="1.1" stroke-linejoin="miter"/>
<polygon points="469.50,357.10 467.50,361.10 471.50,361.10" fill="#eee" stroke="#000" stroke-width="1.1" stroke-linejoin="miter"/>
<polygon points="472.10,355.90 470.10,359.90 474.10,359.90" fill="#eee" stroke="#000" stroke-width="1.1" stroke-linejoin="miter"/>
<polygon points="474.70,357.10 472.70,361.10 476.70,361.10" fill="#eee" stroke="#000" stroke-width="1.1" stroke-linejoin="miter"/>
<polygon points="491.00,314.49 488.90,318.69 493.10,318.69" fill="#8a8a8a" stroke="#777" stroke-width="0.6" stroke-linejoin="miter"/>
<polygon points="491.00,333.39 488.90,337.59 493.10,337.59" fill="#8a8a8a" stroke="#777" stroke-width="0.6" stroke-linejoin="miter"/>
<polygon points="494.00,341.79 491.90,345.99 496.10,345.99" fill="#8a8a8a" stroke="#777" stroke-width="0.6" stroke-linejoin="miter"/>
<polygon points="487.30,346.09 485.20,350.29 489.40,350.29" fill="#8a8a8a" stroke="#777" stroke-width="0.6" stroke-linejoin="miter"/>
<polygon points="510.20,300.92 507.95,305.42 512.45,305.42" fill="#111" stroke="#111" stroke-width="0.6" stroke-linejoin="miter"/>
<polygon points="510.20,319.82 507.95,324.32 512.45,324.32" fill="#111" stroke="#111" stroke-width="0.6" stroke-linejoin="miter"/>
<polygon points="506.90,332.72 504.65,337.22 509.15,337.22" fill="#111" stroke="#111" stroke-width="0.6" stroke-linejoin="miter"/>
<polygon points="513.30,330.92 511.05,335.42 515.55,335.42" fill="#111" stroke="#111" stroke-width="0.6" stroke-linejoin="miter"/>
</g>
</svg>
</body>
</html>
